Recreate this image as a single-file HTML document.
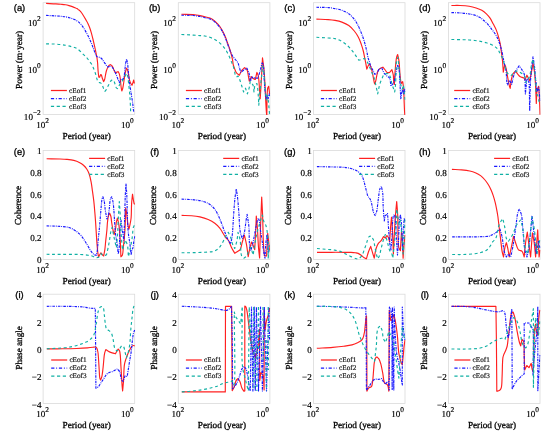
<!DOCTYPE html>
<html><head><meta charset="utf-8"><style>
html,body{margin:0;padding:0;background:#fff;}
svg{display:block;will-change:transform;}
text{text-rendering:geometricPrecision;stroke:#000;stroke-width:0.3px;paint-order:stroke;}
text.tk{stroke-width:0.18px;}
</style></head><body>
<svg width="550" height="435" viewBox="0 0 550 435">
<rect width="550" height="435" fill="#fff"/>
<defs>
<clipPath id="cp00"><rect x="43.10" y="1.70" width="92.10" height="113.20"/></clipPath>
<clipPath id="cp01"><rect x="178.30" y="1.70" width="92.10" height="113.20"/></clipPath>
<clipPath id="cp02"><rect x="313.40" y="1.70" width="92.10" height="113.20"/></clipPath>
<clipPath id="cp03"><rect x="448.40" y="1.70" width="92.10" height="113.20"/></clipPath>
<clipPath id="cp10"><rect x="43.10" y="149.50" width="92.10" height="110.40"/></clipPath>
<clipPath id="cp11"><rect x="178.30" y="149.50" width="92.10" height="110.40"/></clipPath>
<clipPath id="cp12"><rect x="313.40" y="149.50" width="92.10" height="110.40"/></clipPath>
<clipPath id="cp13"><rect x="448.40" y="149.50" width="92.10" height="110.40"/></clipPath>
<clipPath id="cp20"><rect x="43.10" y="293.20" width="92.10" height="110.70"/></clipPath>
<clipPath id="cp21"><rect x="178.30" y="293.20" width="92.10" height="110.70"/></clipPath>
<clipPath id="cp22"><rect x="313.40" y="293.20" width="92.10" height="110.70"/></clipPath>
<clipPath id="cp23"><rect x="448.40" y="293.20" width="92.10" height="110.70"/></clipPath>
</defs>
<rect x="43.10" y="2.70" width="91.60" height="111.70" fill="none" stroke="#dadada" stroke-width="0.8"/>
<text x="40.80" y="26.30" font-size="9.1" text-anchor="end" class="tk" font-family='"Liberation Serif", serif'>10<tspan font-size="7.4" dy="-5.2">2</tspan></text>
<text x="40.80" y="73.05" font-size="9.1" text-anchor="end" class="tk" font-family='"Liberation Serif", serif'>10<tspan font-size="7.4" dy="-5.2">0</tspan></text>
<text x="40.80" y="120.10" font-size="9.1" text-anchor="end" class="tk" font-family='"Liberation Serif", serif'>10<tspan font-size="7.4" dy="-5.2">&#8722;2</tspan></text>
<text x="42.60" y="128.40" font-size="9.1" text-anchor="middle" class="tk" font-family='"Liberation Serif", serif'>10<tspan font-size="7.4" dy="-5.2">2</tspan></text>
<text x="127.30" y="128.40" font-size="9.1" text-anchor="middle" class="tk" font-family='"Liberation Serif", serif'>10<tspan font-size="7.4" dy="-5.2">0</tspan></text>
<text x="86.70" y="139.40" font-size="9.2" text-anchor="middle" font-family='"Liberation Serif", serif' >Period (year)</text>
<text x="0" y="0" transform="translate(21.80,59.95) rotate(-90)" font-size="9.2" text-anchor="middle" font-family='"Liberation Serif", serif'>Power (m&#183;year)</text>
<text x="19.50" y="10.80" font-size="9.4" text-anchor="middle" font-family='"Liberation Sans", sans-serif' >(a)</text>
<g clip-path="url(#cp00)" fill="none" stroke-linejoin="round">
<path d="M46.10,3.40 C49.33,3.57 53.07,3.72 55.80,3.90 C57.80,4.03 59.34,4.14 61.00,4.30 C62.53,4.45 64.01,4.57 65.40,4.80 C66.67,5.01 67.83,5.29 69.00,5.60 C70.13,5.90 71.26,6.23 72.30,6.60 C73.25,6.94 74.17,7.34 75.00,7.70 C75.72,8.01 76.42,8.25 77.00,8.60 C77.50,8.90 77.83,9.26 78.30,9.60 C78.83,9.99 79.53,10.37 80.00,10.80 C80.41,11.18 80.60,11.46 81.00,12.00 C81.72,12.96 82.94,14.82 83.80,16.20 C84.60,17.49 85.30,18.77 86.00,20.00 C86.66,21.16 87.30,22.16 87.90,23.40 C88.58,24.80 89.22,26.41 89.80,28.00 C90.40,29.64 90.90,31.37 91.40,33.10 C91.91,34.87 92.35,36.68 92.80,38.50 C93.25,40.35 93.69,42.29 94.10,44.10 C94.49,45.79 94.85,47.37 95.20,49.00 C95.55,50.61 95.89,52.25 96.20,53.80 C96.49,55.25 96.77,56.53 97.00,58.00 C97.25,59.59 97.43,61.14 97.60,63.00 C97.81,65.35 97.88,68.51 98.10,71.00 C98.29,73.20 98.57,75.13 98.80,77.20 C99.07,77.23 99.33,77.27 99.60,77.30 C99.93,76.40 100.27,75.50 100.60,74.60 C100.87,74.67 101.13,74.73 101.40,74.80 C101.77,76.13 102.10,77.59 102.50,78.80 C102.84,79.83 103.23,80.67 103.60,81.60 C103.93,80.90 104.32,80.35 104.60,79.50 C105.00,78.30 105.18,76.50 105.50,75.00 C105.82,73.50 106.05,71.89 106.50,70.50 C106.91,69.24 107.44,67.98 108.00,67.00 C108.46,66.21 109.00,65.39 109.50,65.00 C109.83,64.75 110.17,64.73 110.50,64.60 C110.93,64.93 111.41,65.16 111.80,65.60 C112.26,66.12 112.61,66.81 113.00,67.60 C113.51,68.63 113.96,70.29 114.50,71.30 C114.91,72.06 115.37,72.57 115.80,73.20 C116.20,72.80 116.58,72.27 117.00,72.00 C117.35,71.78 117.73,71.73 118.10,71.60 C118.47,72.27 118.89,72.78 119.20,73.60 C119.64,74.76 119.92,76.26 120.20,78.00 C120.60,80.46 120.77,84.60 121.10,87.00 C121.32,88.60 121.57,89.67 121.80,91.00 C122.10,90.17 122.44,89.47 122.70,88.50 C123.04,87.23 123.24,85.61 123.50,84.00 C123.80,82.15 124.08,80.00 124.40,78.00 C124.72,76.00 124.98,73.76 125.40,72.00 C125.74,70.58 126.20,69.47 126.60,68.20 C126.93,68.80 127.31,69.22 127.60,70.00 C128.05,71.22 128.27,73.29 128.60,75.00 C128.94,76.79 129.16,78.96 129.60,80.50 C129.94,81.67 130.35,82.65 130.80,83.50 C131.17,84.20 131.60,84.70 132.00,85.30 C132.33,84.37 132.71,83.41 133.00,82.50 C133.27,81.65 133.47,80.83 133.70,80.00 C133.93,81.17 134.17,82.33 134.40,83.50" stroke="#ff2020" stroke-width="1.15" />
<path d="M46.10,15.40 C49.33,15.57 53.07,15.72 55.80,15.90 C57.80,16.03 59.34,16.14 61.00,16.30 C62.53,16.45 64.01,16.57 65.40,16.80 C66.67,17.01 67.83,17.29 69.00,17.60 C70.13,17.90 71.12,18.14 72.30,18.60 C73.75,19.17 75.65,20.04 77.00,20.90 C78.16,21.63 79.10,22.41 80.00,23.30 C80.89,24.18 81.64,25.18 82.40,26.20 C83.18,27.25 83.91,28.36 84.60,29.50 C85.31,30.66 85.96,31.91 86.60,33.10 C87.22,34.25 87.83,35.35 88.40,36.50 C88.97,37.65 89.48,38.83 90.00,40.00 C90.52,41.16 91.03,42.34 91.50,43.50 C91.96,44.64 92.37,45.79 92.80,46.90 C93.21,47.96 93.65,49.03 94.00,50.00 C94.31,50.85 94.49,51.59 94.80,52.40 C95.12,53.26 95.51,54.25 95.90,55.00 C96.22,55.61 96.41,56.23 96.90,56.60 C97.42,56.99 98.38,57.02 99.00,57.20 C99.49,57.34 99.86,57.36 100.30,57.60 C100.86,57.90 101.49,58.44 102.00,59.00 C102.56,59.62 102.98,60.45 103.50,61.20 C104.05,61.98 104.65,62.80 105.20,63.60 C105.75,64.40 106.26,65.40 106.80,66.00 C107.20,66.44 107.60,66.67 108.00,67.00 C108.50,66.80 109.01,66.53 109.50,66.40 C109.94,66.28 110.38,66.08 110.80,66.20 C111.29,66.34 111.74,66.92 112.20,67.40 C112.75,67.98 113.30,68.69 113.80,69.50 C114.38,70.45 114.89,71.64 115.40,72.80 C115.96,74.06 116.49,75.50 117.00,76.80 C117.49,78.03 117.96,79.35 118.40,80.40 C118.75,81.23 119.07,81.87 119.40,82.60 C119.73,81.90 120.03,81.13 120.40,80.50 C120.73,79.94 121.13,79.50 121.50,79.00 C121.83,79.13 122.17,79.27 122.50,79.40 C122.87,79.00 123.30,78.80 123.60,78.20 C124.14,77.12 124.30,75.00 124.60,73.00 C125.00,70.31 125.17,66.04 125.60,63.50 C125.89,61.78 126.27,60.63 126.60,59.20 C126.90,60.47 127.25,61.49 127.50,63.00 C127.86,65.17 128.03,68.32 128.30,71.00 C128.57,73.72 128.80,76.60 129.10,79.20 C129.37,81.58 129.69,83.81 130.00,86.00 C130.29,88.06 130.62,90.14 130.90,92.00 C131.15,93.61 131.36,95.05 131.60,96.50 C131.83,97.87 132.09,99.21 132.30,100.50 C132.49,101.70 132.65,102.73 132.80,104.00 C132.98,105.52 133.11,107.55 133.30,109.00 C133.45,110.13 133.63,111.00 133.80,112.00" stroke="#1818ff" stroke-width="1.15" stroke-dasharray="2.6 1.0 0.9 1.0"/>
<path d="M46.10,43.90 C49.33,43.97 52.58,43.88 55.80,44.10 C59.01,44.32 62.48,44.68 65.40,45.20 C67.91,45.65 70.23,46.29 72.30,46.90 C74.03,47.41 75.40,47.55 77.00,48.50 C79.15,49.78 81.78,52.85 83.60,54.60 C84.93,55.88 86.00,56.82 87.00,58.00 C87.95,59.12 88.66,60.38 89.50,61.50 C90.30,62.57 91.23,63.46 91.90,64.60 C92.60,65.79 93.05,67.15 93.60,68.50 C94.19,69.94 94.80,71.46 95.30,73.00 C95.81,74.56 96.18,76.39 96.60,77.80 C96.94,78.92 97.18,79.97 97.60,80.80 C97.94,81.48 98.30,82.20 98.80,82.50 C99.23,82.76 99.84,82.50 100.30,82.70 C100.78,82.91 101.22,83.30 101.60,83.80 C102.10,84.46 102.42,85.58 102.80,86.50 C103.19,87.44 103.52,88.53 103.90,89.40 C104.22,90.14 104.57,90.73 104.90,91.40 C105.37,90.80 105.87,90.28 106.30,89.60 C106.78,88.83 107.16,87.87 107.60,87.00 C108.05,86.11 108.50,85.24 109.00,84.30 C109.56,83.25 110.11,81.80 110.80,81.00 C111.32,80.40 111.93,80.13 112.50,79.70 C113.00,80.23 113.58,80.62 114.00,81.30 C114.52,82.14 114.81,83.41 115.20,84.50 C115.61,85.64 115.85,87.35 116.40,88.00 C116.72,88.38 117.13,88.40 117.50,88.60 C117.87,87.93 118.23,87.28 118.60,86.60 C118.99,85.88 119.38,85.09 119.80,84.40 C120.19,83.76 120.56,83.20 121.00,82.60 C121.46,81.97 122.01,81.37 122.50,80.70 C123.01,80.00 123.54,79.31 124.00,78.50 C124.51,77.60 124.92,76.43 125.40,75.50 C125.83,74.67 126.27,73.97 126.70,73.20 C127.07,74.47 127.49,75.47 127.80,77.00 C128.25,79.22 128.50,82.58 128.80,85.30 C129.09,87.91 129.37,90.41 129.60,93.00 C129.84,95.64 130.05,98.42 130.20,101.00 C130.34,103.41 130.41,105.76 130.50,108.00 C130.58,110.08 130.63,112.00 130.70,114.00" stroke="#10b0a4" stroke-width="1.15" stroke-dasharray="2.9 2.7"/>
</g>
<rect x="178.30" y="2.70" width="91.60" height="111.70" fill="none" stroke="#dadada" stroke-width="0.8"/>
<text x="176.00" y="26.30" font-size="9.1" text-anchor="end" class="tk" font-family='"Liberation Serif", serif'>10<tspan font-size="7.4" dy="-5.2">2</tspan></text>
<text x="176.00" y="73.05" font-size="9.1" text-anchor="end" class="tk" font-family='"Liberation Serif", serif'>10<tspan font-size="7.4" dy="-5.2">0</tspan></text>
<text x="176.00" y="120.10" font-size="9.1" text-anchor="end" class="tk" font-family='"Liberation Serif", serif'>10<tspan font-size="7.4" dy="-5.2">&#8722;2</tspan></text>
<text x="177.80" y="128.40" font-size="9.1" text-anchor="middle" class="tk" font-family='"Liberation Serif", serif'>10<tspan font-size="7.4" dy="-5.2">2</tspan></text>
<text x="262.50" y="128.40" font-size="9.1" text-anchor="middle" class="tk" font-family='"Liberation Serif", serif'>10<tspan font-size="7.4" dy="-5.2">0</tspan></text>
<text x="221.90" y="139.40" font-size="9.2" text-anchor="middle" font-family='"Liberation Serif", serif' >Period (year)</text>
<text x="0" y="0" transform="translate(157.00,59.95) rotate(-90)" font-size="9.2" text-anchor="middle" font-family='"Liberation Serif", serif'>Power (m&#183;year)</text>
<text x="154.70" y="10.80" font-size="9.4" text-anchor="middle" font-family='"Liberation Sans", sans-serif' >(b)</text>
<g clip-path="url(#cp01)" fill="none" stroke-linejoin="round">
<path d="M181.40,14.30 C185.33,14.40 189.81,14.31 193.20,14.60 C195.78,14.82 197.92,15.20 200.00,15.60 C201.80,15.95 203.21,16.31 205.00,16.80 C207.12,17.38 209.84,17.76 211.90,18.90 C213.97,20.05 215.77,21.96 217.40,23.70 C218.99,25.40 220.36,27.20 221.60,29.20 C222.91,31.31 223.98,33.72 225.00,36.10 C226.05,38.55 226.95,41.37 227.80,43.70 C228.52,45.68 229.22,47.42 229.80,49.20 C230.34,50.85 230.76,52.29 231.20,54.00 C231.70,55.93 232.24,58.26 232.60,60.20 C232.91,61.90 232.93,63.53 233.30,65.00 C233.63,66.30 234.10,67.36 234.60,68.60 C235.15,69.98 235.63,71.77 236.50,72.90 C237.28,73.90 238.43,74.43 239.40,75.20 C240.17,73.63 240.76,71.80 241.70,70.50 C242.53,69.36 243.63,68.63 244.60,67.70 C245.37,68.33 246.31,68.64 246.90,69.60 C247.79,71.05 247.98,74.15 248.40,76.20 C248.76,77.98 249.00,79.53 249.30,81.20 C249.60,80.70 249.92,80.31 250.20,79.70 C250.58,78.85 250.87,77.57 251.20,76.50 C251.67,77.00 252.11,77.57 252.60,78.00 C253.05,78.39 253.53,78.74 254.00,79.00 C254.43,79.23 254.87,79.33 255.30,79.50 C255.83,77.13 256.37,74.77 256.90,72.40 C257.37,73.67 257.91,74.47 258.30,76.20 C259.07,79.63 259.36,87.86 259.70,92.00 C259.92,94.67 260.03,96.40 260.20,98.60 C260.50,93.90 260.78,89.94 261.10,84.50 C261.54,77.01 262.03,66.70 262.50,57.80 C262.97,61.40 263.52,64.75 263.90,68.60 C264.34,73.00 264.64,78.36 264.90,82.80 C265.13,86.73 265.20,89.81 265.40,93.90 C265.65,98.97 266.00,106.89 266.30,110.90 C266.47,113.10 266.63,114.30 266.80,116.00 C267.10,106.73 266.70,92.00 267.70,88.20 C267.95,87.27 268.37,86.93 268.70,86.30 C269.00,88.83 269.30,91.37 269.60,93.90" stroke="#ff2020" stroke-width="1.15" />
<path d="M181.40,15.20 C185.33,15.30 189.81,15.21 193.20,15.50 C195.78,15.72 197.92,16.10 200.00,16.50 C201.80,16.85 203.21,17.21 205.00,17.70 C207.12,18.28 209.84,18.66 211.90,19.80 C213.97,20.95 215.77,22.86 217.40,24.60 C218.99,26.30 220.36,28.10 221.60,30.10 C222.91,32.21 223.98,34.62 225.00,37.00 C226.05,39.45 226.95,42.27 227.80,44.60 C228.52,46.58 229.30,48.77 229.80,50.10 C230.09,50.87 230.18,51.19 230.50,51.90 C230.99,53.00 231.79,54.72 232.60,56.00 C233.39,57.25 234.39,58.34 235.30,59.50 C236.22,60.67 237.50,61.81 238.10,63.00 C238.60,63.99 238.57,64.82 238.90,66.00 C239.39,67.74 240.17,70.27 240.80,72.40 C241.60,71.77 242.29,71.14 243.20,70.50 C244.28,69.74 245.67,68.97 246.90,68.20 C247.70,70.23 248.75,72.19 249.30,74.30 C249.85,76.42 249.90,78.70 250.20,80.90 C250.53,80.50 250.91,80.21 251.20,79.70 C251.58,79.02 251.80,77.97 252.10,77.10 C252.73,77.33 253.47,77.62 254.00,77.80 C254.38,77.93 254.58,78.04 255.00,78.10 C255.69,78.20 256.87,78.10 257.80,78.10 C258.43,76.20 259.07,74.55 259.70,72.40 C260.50,69.67 261.30,66.13 262.10,63.00 C262.40,63.30 262.76,63.38 263.00,63.90 C264.02,66.12 263.95,77.33 264.40,82.80 C264.74,86.99 265.02,90.82 265.40,93.90 C265.67,96.12 266.00,97.70 266.30,99.60 C266.63,98.33 266.97,97.07 267.30,95.80 C267.60,96.73 267.90,97.67 268.20,98.60 C268.50,97.03 268.80,95.47 269.10,93.90 C269.27,94.60 269.43,95.30 269.60,96.00" stroke="#1818ff" stroke-width="1.15" stroke-dasharray="2.6 1.0 0.9 1.0"/>
<path d="M181.40,34.50 C185.33,34.70 189.81,34.89 193.20,35.10 C195.78,35.26 197.91,35.44 200.00,35.60 C201.79,35.74 203.22,35.66 205.00,36.00 C207.14,36.41 209.66,37.11 211.90,38.10 C214.26,39.14 216.72,40.57 218.80,42.20 C220.85,43.81 222.71,45.73 224.30,47.80 C225.91,49.89 227.16,52.26 228.40,54.70 C229.71,57.27 231.02,60.82 231.90,62.90 C232.44,64.18 232.80,64.80 233.20,66.00 C233.72,67.56 234.18,69.76 234.60,71.50 C234.97,73.07 234.98,75.16 235.60,76.00 C235.97,76.50 236.53,76.53 237.00,76.80 C237.33,76.53 237.67,76.27 238.00,76.00 C238.47,76.93 238.94,77.68 239.40,78.80 C240.04,80.35 240.65,82.47 241.30,84.50 C242.04,86.82 242.83,89.50 243.60,92.00 C244.23,90.73 244.87,89.47 245.50,88.20 C246.13,90.10 246.77,92.00 247.40,93.90 C248.03,91.70 248.83,89.43 249.30,87.30 C249.73,85.34 249.90,83.50 250.20,81.60 C250.63,82.07 251.07,82.45 251.50,83.00 C252.03,83.68 252.70,84.34 253.10,85.40 C253.71,87.01 253.70,89.80 254.00,92.00 C254.33,89.80 254.26,86.86 255.00,85.40 C255.47,84.47 256.27,84.13 256.90,83.50 C257.20,85.40 257.54,86.81 257.80,89.20 C258.24,93.18 258.47,99.87 258.80,105.20 C259.10,101.43 259.31,98.10 259.70,93.90 C260.19,88.61 261.10,81.11 261.60,76.00 C261.97,72.19 262.20,69.33 262.50,66.00 C262.83,67.33 263.21,68.35 263.50,70.00 C263.95,72.57 264.18,76.51 264.50,80.00 C264.85,83.82 265.13,88.41 265.50,92.00 C265.81,94.94 266.17,97.33 266.50,100.00 C266.73,98.33 266.97,96.67 267.20,95.00 C267.53,96.67 267.92,98.13 268.20,100.00 C268.55,102.35 268.76,105.42 269.00,108.00 C269.22,110.41 269.40,112.67 269.60,115.00" stroke="#10b0a4" stroke-width="1.15" stroke-dasharray="2.9 2.7"/>
</g>
<rect x="313.40" y="2.70" width="91.60" height="111.70" fill="none" stroke="#dadada" stroke-width="0.8"/>
<text x="311.10" y="26.30" font-size="9.1" text-anchor="end" class="tk" font-family='"Liberation Serif", serif'>10<tspan font-size="7.4" dy="-5.2">2</tspan></text>
<text x="311.10" y="73.05" font-size="9.1" text-anchor="end" class="tk" font-family='"Liberation Serif", serif'>10<tspan font-size="7.4" dy="-5.2">0</tspan></text>
<text x="311.10" y="120.10" font-size="9.1" text-anchor="end" class="tk" font-family='"Liberation Serif", serif'>10<tspan font-size="7.4" dy="-5.2">&#8722;2</tspan></text>
<text x="312.90" y="128.40" font-size="9.1" text-anchor="middle" class="tk" font-family='"Liberation Serif", serif'>10<tspan font-size="7.4" dy="-5.2">2</tspan></text>
<text x="397.60" y="128.40" font-size="9.1" text-anchor="middle" class="tk" font-family='"Liberation Serif", serif'>10<tspan font-size="7.4" dy="-5.2">0</tspan></text>
<text x="357.00" y="139.40" font-size="9.2" text-anchor="middle" font-family='"Liberation Serif", serif' >Period (year)</text>
<text x="0" y="0" transform="translate(292.10,59.95) rotate(-90)" font-size="9.2" text-anchor="middle" font-family='"Liberation Serif", serif'>Power (m&#183;year)</text>
<text x="289.80" y="10.80" font-size="9.4" text-anchor="middle" font-family='"Liberation Sans", sans-serif' >(c)</text>
<g clip-path="url(#cp02)" fill="none" stroke-linejoin="round">
<path d="M316.40,19.10 C320.33,19.27 324.81,19.33 328.20,19.60 C330.78,19.81 332.74,19.99 335.00,20.40 C337.30,20.82 339.64,21.28 341.90,22.10 C344.25,22.96 346.74,24.02 348.80,25.50 C350.87,26.99 352.69,29.02 354.30,31.00 C355.88,32.93 357.25,35.02 358.40,37.20 C359.55,39.38 360.38,41.78 361.20,44.10 C362.01,46.38 362.71,48.69 363.30,51.00 C363.88,53.29 364.25,55.68 364.70,57.90 C365.12,59.97 365.54,61.97 365.90,63.90 C366.23,65.69 366.50,67.37 366.80,69.10 C367.27,68.00 367.67,66.72 368.20,65.80 C368.63,65.05 369.13,64.53 369.60,63.90 C370.10,65.17 370.65,66.29 371.10,67.70 C371.64,69.39 372.08,71.50 372.50,73.40 C372.91,75.27 373.26,77.29 373.60,79.00 C373.89,80.45 374.14,82.12 374.40,83.00 C374.53,83.45 374.67,83.67 374.80,84.00 C375.13,82.90 375.50,81.91 375.80,80.70 C376.15,79.28 376.32,77.62 376.70,76.00 C377.11,74.23 377.41,71.87 378.20,70.50 C378.80,69.47 379.67,68.76 380.50,68.20 C381.25,67.70 382.10,67.53 382.90,67.20 C383.67,68.13 384.47,69.10 385.20,70.00 C385.87,70.83 386.32,72.02 387.10,72.40 C387.79,72.73 388.77,72.74 389.50,72.40 C390.41,71.98 391.10,70.53 391.90,69.60 C392.37,71.47 392.97,73.13 393.30,75.20 C393.70,77.68 393.51,82.09 393.90,83.50 C394.03,83.99 394.23,84.17 394.40,84.50 C394.67,79.67 394.81,74.67 395.20,70.00 C395.56,65.62 395.94,59.98 396.60,57.30 C396.92,56.00 397.33,55.43 397.70,54.50 C398.13,56.70 398.66,58.55 399.00,61.10 C399.46,64.56 399.59,69.94 399.90,73.40 C400.13,75.94 400.32,78.15 400.60,80.00 C400.81,81.36 401.07,82.33 401.30,83.50 C401.77,82.87 402.23,82.23 402.70,81.60 C403.03,84.13 403.47,86.41 403.70,89.20 C403.98,92.59 403.95,96.73 404.10,100.50 C404.25,104.29 404.40,109.05 404.60,111.90 C404.72,113.61 404.87,114.63 405.00,116.00" stroke="#ff2020" stroke-width="1.15" />
<path d="M316.40,7.30 C320.33,7.40 324.81,7.31 328.20,7.60 C330.78,7.82 332.74,8.16 335.00,8.60 C337.30,9.05 339.65,9.46 341.90,10.30 C344.25,11.17 346.74,12.30 348.80,13.80 C350.87,15.30 352.71,17.25 354.30,19.30 C355.92,21.38 357.16,23.75 358.40,26.20 C359.71,28.80 360.84,31.71 361.90,34.50 C362.94,37.25 363.89,40.02 364.70,42.80 C365.49,45.52 366.11,48.38 366.70,51.00 C367.23,53.39 367.60,56.05 368.10,57.90 C368.45,59.18 368.82,59.93 369.20,61.10 C369.65,62.51 369.98,64.26 370.60,65.80 C371.24,67.40 372.27,69.01 373.00,70.50 C373.65,71.83 374.20,73.03 374.80,74.30 C375.43,74.00 376.08,73.96 376.70,73.40 C377.71,72.49 378.50,69.35 379.60,68.60 C380.31,68.11 381.13,68.33 381.90,68.20 C382.70,69.93 383.32,72.00 384.30,73.40 C385.11,74.56 386.18,75.38 387.10,76.20 C387.91,76.92 388.90,77.09 389.50,78.10 C390.48,79.74 390.43,83.37 390.90,86.00 C391.37,85.50 391.84,85.04 392.30,84.50 C392.80,83.91 393.36,83.53 393.80,82.60 C394.62,80.86 394.97,77.16 395.60,74.30 C396.27,71.24 397.00,67.97 397.70,64.80 C398.27,67.33 399.03,69.66 399.40,72.40 C399.82,75.53 399.70,78.82 399.90,82.60 C400.15,87.34 400.50,93.27 400.80,98.60 C401.30,95.47 401.80,92.33 402.30,89.20 C402.77,90.77 403.23,92.33 403.70,93.90 C404.00,92.33 404.30,90.77 404.60,89.20 C404.73,90.13 404.87,91.07 405.00,92.00" stroke="#1818ff" stroke-width="1.15" stroke-dasharray="2.6 1.0 0.9 1.0"/>
<path d="M316.40,37.30 C320.33,37.53 324.81,37.75 328.20,38.00 C330.78,38.19 332.76,38.06 335.00,38.60 C337.33,39.16 339.69,40.11 341.90,41.40 C344.31,42.81 346.87,45.04 348.80,46.90 C350.43,48.48 351.62,50.06 352.90,51.70 C354.15,53.30 355.35,55.10 356.40,56.60 C357.28,57.86 358.00,58.93 358.80,60.10 C359.73,59.93 360.67,59.87 361.60,59.60 C362.57,59.32 363.53,58.80 364.50,58.40 C365.43,59.60 366.45,60.59 367.30,62.00 C368.32,63.70 369.13,65.99 370.00,68.00 C370.86,69.99 371.78,72.33 372.50,74.00 C373.02,75.21 373.48,75.89 373.90,77.10 C374.45,78.69 374.79,80.58 375.30,82.80 C376.01,85.89 376.90,90.20 377.70,93.90 C378.00,92.33 378.24,90.84 378.60,89.20 C379.00,87.39 379.42,85.29 380.00,83.50 C380.54,81.84 381.18,80.33 381.90,78.80 C382.62,77.26 383.16,75.18 384.30,74.30 C385.28,73.54 386.77,73.70 388.00,73.40 C388.80,74.63 389.78,75.61 390.40,77.10 C391.19,78.99 391.29,81.88 391.90,84.00 C392.44,85.88 393.29,87.73 393.80,89.20 C394.17,90.27 394.40,91.07 394.70,92.00 C395.00,89.33 395.34,87.36 395.60,84.00 C396.04,78.33 395.72,65.48 396.60,61.10 C396.96,59.31 397.53,58.57 398.00,57.30 C398.47,62.03 398.92,66.85 399.40,71.50 C399.86,75.98 400.10,81.48 400.80,84.70 C401.22,86.62 401.80,87.70 402.30,89.20 C402.70,87.80 403.10,86.40 403.50,85.00 C403.83,88.33 404.22,92.24 404.50,95.00 C404.70,96.95 404.83,98.33 405.00,100.00" stroke="#10b0a4" stroke-width="1.15" stroke-dasharray="2.9 2.7"/>
</g>
<rect x="448.40" y="2.70" width="91.60" height="111.70" fill="none" stroke="#dadada" stroke-width="0.8"/>
<text x="446.10" y="26.30" font-size="9.1" text-anchor="end" class="tk" font-family='"Liberation Serif", serif'>10<tspan font-size="7.4" dy="-5.2">2</tspan></text>
<text x="446.10" y="73.05" font-size="9.1" text-anchor="end" class="tk" font-family='"Liberation Serif", serif'>10<tspan font-size="7.4" dy="-5.2">0</tspan></text>
<text x="446.10" y="120.10" font-size="9.1" text-anchor="end" class="tk" font-family='"Liberation Serif", serif'>10<tspan font-size="7.4" dy="-5.2">&#8722;2</tspan></text>
<text x="447.90" y="128.40" font-size="9.1" text-anchor="middle" class="tk" font-family='"Liberation Serif", serif'>10<tspan font-size="7.4" dy="-5.2">2</tspan></text>
<text x="532.60" y="128.40" font-size="9.1" text-anchor="middle" class="tk" font-family='"Liberation Serif", serif'>10<tspan font-size="7.4" dy="-5.2">0</tspan></text>
<text x="492.00" y="139.40" font-size="9.2" text-anchor="middle" font-family='"Liberation Serif", serif' >Period (year)</text>
<text x="0" y="0" transform="translate(427.10,59.95) rotate(-90)" font-size="9.2" text-anchor="middle" font-family='"Liberation Serif", serif'>Power (m&#183;year)</text>
<text x="424.80" y="10.80" font-size="9.4" text-anchor="middle" font-family='"Liberation Sans", sans-serif' >(d)</text>
<g clip-path="url(#cp03)" fill="none" stroke-linejoin="round">
<path d="M451.40,5.50 C454.27,5.50 457.09,5.37 460.00,5.50 C463.02,5.63 466.37,5.83 469.20,6.30 C471.68,6.71 473.93,7.30 476.10,8.00 C478.12,8.65 480.06,9.31 481.80,10.30 C483.49,11.26 485.03,12.52 486.40,13.80 C487.72,15.03 488.82,16.25 489.90,17.80 C491.15,19.60 492.23,22.04 493.30,24.10 C494.32,26.07 495.35,27.85 496.20,29.90 C497.10,32.07 497.83,34.49 498.50,36.80 C499.16,39.09 499.74,41.32 500.20,43.70 C500.68,46.21 500.93,48.79 501.30,51.50 C501.70,54.44 502.18,57.46 502.50,60.70 C502.86,64.31 503.03,68.37 503.30,72.20 C503.80,69.70 504.30,67.20 504.80,64.70 C505.17,65.67 505.55,66.34 505.90,67.60 C506.51,69.79 507.02,73.73 507.60,76.80 C508.18,79.87 508.85,83.97 509.40,86.00 C509.68,87.04 509.93,87.53 510.20,88.30 C510.70,84.83 511.00,80.64 511.70,77.90 C512.18,76.03 512.63,74.51 513.40,73.30 C514.03,72.32 514.93,71.77 515.70,71.00 C516.47,72.17 517.18,73.49 518.00,74.50 C518.72,75.39 519.38,76.24 520.30,76.80 C521.26,77.39 522.90,77.27 523.70,77.90 C524.36,78.42 524.57,79.30 525.00,80.00 C525.63,78.40 526.27,76.80 526.90,75.20 C527.37,76.17 527.83,77.14 528.30,78.10 C528.76,79.04 529.23,79.97 529.70,80.90 C530.50,76.80 531.51,71.91 532.10,68.60 C532.50,66.37 532.70,64.87 533.00,63.00 C533.47,65.83 534.02,68.46 534.40,71.50 C534.84,74.99 535.11,78.47 535.40,82.80 C535.79,88.64 536.00,96.53 536.30,103.40 C536.63,98.67 536.53,92.10 537.30,89.20 C537.67,87.82 538.23,87.27 538.70,86.30 C538.97,90.87 539.27,95.35 539.50,100.00 C539.74,104.81 539.90,109.80 540.10,114.70" stroke="#ff2020" stroke-width="1.15" />
<path d="M451.40,12.60 C454.27,12.70 457.29,12.72 460.00,12.90 C462.43,13.07 464.61,13.27 466.90,13.60 C469.21,13.93 471.64,14.27 473.80,14.90 C475.82,15.49 477.76,16.21 479.50,17.20 C481.19,18.16 482.61,19.40 484.10,20.70 C485.68,22.08 487.32,23.72 488.70,25.30 C490.00,26.79 491.05,28.36 492.20,29.90 C493.35,31.43 494.63,32.92 495.60,34.50 C496.52,35.99 497.21,37.55 497.90,39.10 C498.57,40.62 499.11,41.95 499.70,43.70 C500.45,45.94 501.21,48.63 501.90,51.50 C502.73,54.95 503.46,59.66 504.20,63.00 C504.78,65.60 505.45,67.18 505.90,69.90 C506.53,73.69 506.57,81.69 507.10,83.70 C507.24,84.23 507.43,84.43 507.60,84.80 C508.20,83.27 508.80,81.73 509.40,80.20 C510.17,81.57 510.93,82.93 511.70,84.30 C512.27,81.80 512.68,79.11 513.40,76.80 C514.05,74.72 514.74,72.82 515.70,71.00 C516.65,69.19 517.97,67.60 519.10,65.90 C520.07,67.23 521.14,68.48 522.00,69.90 C522.88,71.35 523.73,72.36 524.30,74.50 C525.41,78.66 525.03,87.43 525.40,93.90 C525.90,88.87 526.40,83.83 526.90,78.80 C527.37,79.20 527.94,79.25 528.30,80.00 C529.93,83.34 529.23,100.60 529.70,110.90 C530.00,100.50 530.14,87.47 530.60,79.70 C530.88,75.06 531.21,72.35 531.60,68.60 C532.00,64.72 532.53,60.73 533.00,56.80 C533.47,59.80 534.01,62.63 534.40,65.80 C534.83,69.32 535.05,73.62 535.40,77.00 C535.69,79.81 536.07,82.16 536.30,84.70 C536.53,87.16 536.63,89.57 536.80,92.00 C537.43,90.43 538.07,88.87 538.70,87.30 C539.17,91.70 539.63,96.10 540.10,100.50" stroke="#1818ff" stroke-width="1.15" stroke-dasharray="2.6 1.0 0.9 1.0"/>
<path d="M451.40,39.50 C455.40,39.57 460.12,39.59 463.40,39.70 C465.68,39.78 467.28,39.87 469.20,40.00 C471.11,40.13 473.00,40.27 474.90,40.50 C476.83,40.73 478.78,41.02 480.70,41.40 C482.62,41.78 484.56,42.22 486.40,42.80 C488.19,43.36 490.01,44.04 491.60,44.80 C493.05,45.49 494.50,46.25 495.60,47.10 C496.53,47.81 497.25,48.51 497.90,49.40 C498.59,50.33 498.95,51.32 499.60,52.60 C500.55,54.46 502.06,57.06 503.00,59.50 C503.98,62.05 504.46,65.16 505.30,67.60 C506.02,69.69 506.48,71.93 507.60,73.30 C508.53,74.43 509.93,74.83 511.10,75.60 C512.23,74.47 513.26,72.97 514.50,72.20 C515.59,71.52 516.88,70.85 518.00,71.00 C519.18,71.16 520.33,72.51 521.40,73.30 C522.42,74.05 523.58,74.45 524.30,75.60 C525.31,77.20 525.37,80.27 525.90,82.60 C526.43,81.73 526.94,80.97 527.50,80.00 C528.19,78.82 529.10,77.76 529.70,76.00 C530.69,73.11 530.90,66.98 531.60,63.90 C532.04,61.95 532.53,60.77 533.00,59.20 C533.47,62.33 533.97,65.14 534.40,68.60 C534.92,72.84 535.48,78.35 535.80,82.80 C536.08,86.72 535.50,92.18 536.30,93.90 C536.61,94.56 537.15,94.40 537.50,95.00 C538.22,96.21 538.60,99.85 539.10,101.50 C539.41,102.54 539.70,103.17 540.00,104.00" stroke="#10b0a4" stroke-width="1.15" stroke-dasharray="2.9 2.7"/>
</g>
<rect x="43.10" y="150.50" width="91.60" height="108.90" fill="none" stroke="#dadada" stroke-width="0.8"/>
<text x="41.50" y="154.00" font-size="9.1" text-anchor="end" font-family='"Liberation Serif", serif' class="tk">1</text>
<text x="41.50" y="175.78" font-size="9.1" text-anchor="end" font-family='"Liberation Serif", serif' class="tk">0.8</text>
<text x="41.50" y="197.56" font-size="9.1" text-anchor="end" font-family='"Liberation Serif", serif' class="tk">0.6</text>
<text x="41.50" y="219.34" font-size="9.1" text-anchor="end" font-family='"Liberation Serif", serif' class="tk">0.4</text>
<text x="41.50" y="241.12" font-size="9.1" text-anchor="end" font-family='"Liberation Serif", serif' class="tk">0.2</text>
<text x="41.50" y="262.90" font-size="9.1" text-anchor="end" font-family='"Liberation Serif", serif' class="tk">0</text>
<text x="42.60" y="273.40" font-size="9.1" text-anchor="middle" class="tk" font-family='"Liberation Serif", serif'>10<tspan font-size="7.4" dy="-5.2">2</tspan></text>
<text x="127.30" y="273.40" font-size="9.1" text-anchor="middle" class="tk" font-family='"Liberation Serif", serif'>10<tspan font-size="7.4" dy="-5.2">0</tspan></text>
<text x="86.70" y="284.00" font-size="9.2" text-anchor="middle" font-family='"Liberation Serif", serif' >Period (year)</text>
<text x="0" y="0" transform="translate(21.10,205.45) rotate(-90)" font-size="9.2" text-anchor="middle" font-family='"Liberation Serif", serif'>Coherence</text>
<text x="19.50" y="154.50" font-size="9.4" text-anchor="middle" font-family='"Liberation Sans", sans-serif' >(e)</text>
<g clip-path="url(#cp10)" fill="none" stroke-linejoin="round">
<path d="M46.60,158.80 C51.07,158.87 56.27,158.86 60.00,159.00 C62.68,159.10 64.60,159.17 66.90,159.40 C69.21,159.63 71.66,159.86 73.80,160.40 C75.76,160.89 77.64,161.56 79.30,162.40 C80.85,163.18 82.25,164.07 83.50,165.20 C84.79,166.36 85.97,167.87 86.90,169.30 C87.78,170.64 88.38,171.82 89.00,173.50 C89.84,175.76 90.53,178.92 91.10,181.80 C91.71,184.87 92.05,188.19 92.50,191.40 C92.95,194.62 93.42,197.77 93.80,201.10 C94.20,204.62 94.50,208.43 94.80,212.00 C95.09,215.46 95.32,218.28 95.60,222.20 C95.98,227.54 96.40,235.74 96.80,241.10 C97.10,245.08 97.37,248.55 97.70,251.50 C97.95,253.69 98.23,255.30 98.50,257.20 C98.77,256.67 98.98,256.20 99.30,255.60 C99.73,254.79 100.37,253.73 100.90,252.80 C101.43,253.47 101.99,254.23 102.50,254.80 C102.92,255.26 103.30,255.60 103.70,256.00 C104.10,253.70 104.57,251.49 104.90,249.10 C105.25,246.54 105.40,243.98 105.70,241.10 C106.05,237.70 106.59,233.40 106.90,230.00 C107.16,227.12 107.21,224.50 107.50,222.00 C107.76,219.77 107.99,217.27 108.50,215.70 C108.83,214.68 109.30,214.10 109.70,213.30 C110.10,214.37 110.60,215.27 110.90,216.50 C111.29,218.07 111.31,220.05 111.60,222.00 C111.93,224.24 112.35,226.97 112.80,229.20 C113.20,231.16 113.67,232.87 114.10,234.70 C114.57,232.87 115.13,231.18 115.50,229.20 C115.93,226.93 116.00,223.83 116.40,221.80 C116.68,220.34 117.07,219.33 117.40,218.10 C117.83,219.93 118.32,221.31 118.70,223.60 C119.31,227.32 119.74,233.19 120.10,238.40 C120.50,244.20 120.63,250.67 120.90,256.80 C121.40,256.20 122.02,255.88 122.40,255.00 C123.08,253.43 123.00,250.20 123.30,247.60 C123.63,244.70 124.01,241.78 124.30,238.40 C124.66,234.27 124.99,229.41 125.20,224.60 C125.44,219.32 125.47,213.53 125.60,208.00 C125.93,209.53 126.29,210.68 126.60,212.60 C127.10,215.72 127.38,221.97 127.90,225.00 C128.20,226.78 128.57,227.80 128.90,229.20 C129.20,227.97 129.50,226.95 129.80,225.50 C130.23,223.44 130.80,220.92 131.10,218.00 C131.52,213.95 131.32,207.70 131.60,203.40 C131.83,199.98 132.20,197.27 132.50,194.20 C132.80,196.13 133.09,198.25 133.40,200.00 C133.66,201.46 133.93,202.67 134.20,204.00 C134.47,204.00 134.73,204.00 135.00,204.00" stroke="#ff2020" stroke-width="1.15" />
<path d="M46.60,225.90 C49.40,225.97 52.56,226.00 55.00,226.10 C56.88,226.18 58.24,226.28 60.00,226.40 C61.96,226.54 64.24,226.54 66.20,226.90 C68.03,227.23 69.72,227.66 71.40,228.40 C73.16,229.17 74.93,230.34 76.50,231.50 C78.02,232.62 79.38,233.75 80.70,235.20 C82.17,236.83 83.56,239.03 84.80,240.90 C85.94,242.62 86.87,244.29 87.90,246.00 C88.94,247.72 89.89,249.70 91.00,251.20 C91.97,252.51 93.08,253.94 94.10,254.60 C94.81,255.06 95.50,255.07 96.20,255.30 C96.57,253.77 97.01,252.53 97.30,250.70 C97.72,248.09 97.82,244.16 98.10,241.10 C98.36,238.28 98.63,235.69 98.90,233.00 C99.17,230.32 99.42,228.08 99.70,225.00 C100.08,220.80 100.47,214.72 100.90,210.10 C101.28,206.07 101.55,201.01 102.10,198.80 C102.33,197.86 102.63,197.47 102.90,196.80 C103.30,198.03 103.76,198.96 104.10,200.50 C104.64,202.93 104.82,206.97 105.30,210.10 C105.76,213.13 106.37,216.03 106.90,219.00 C107.30,218.17 107.76,217.60 108.10,216.50 C108.68,214.62 108.92,211.30 109.30,208.50 C109.72,205.42 109.82,200.78 110.50,198.80 C110.83,197.83 111.30,197.47 111.70,196.80 C112.10,198.30 112.58,199.64 112.90,201.30 C113.28,203.30 113.46,205.36 113.70,208.00 C114.05,211.77 114.29,217.36 114.60,221.80 C114.89,225.94 115.08,230.07 115.50,233.80 C115.87,237.08 116.45,239.79 116.90,243.00 C117.39,246.50 117.83,250.33 118.30,254.00 C118.60,251.87 118.95,250.29 119.20,247.60 C119.63,243.06 119.73,234.28 120.10,229.20 C120.36,225.60 120.70,223.07 121.00,220.00 C121.33,222.67 121.66,225.55 122.00,228.00 C122.29,230.09 122.61,231.82 122.90,233.80 C123.21,235.88 123.50,238.07 123.80,240.20 C124.07,233.47 124.36,227.09 124.60,220.00 C124.87,212.11 125.00,201.64 125.30,195.00 C125.50,190.59 125.77,187.67 126.00,184.00 C126.27,187.67 126.58,190.59 126.80,195.00 C127.13,201.64 127.17,212.90 127.50,220.00 C127.75,225.28 127.95,229.67 128.40,233.80 C128.77,237.19 129.37,239.73 129.80,243.00 C130.29,246.73 130.67,251.00 131.10,255.00 C131.40,253.33 131.60,251.35 132.00,250.00 C132.28,249.04 132.72,248.65 133.00,247.60 C133.48,245.80 133.60,242.12 134.00,240.00 C134.30,238.44 134.67,237.33 135.00,236.00" stroke="#1818ff" stroke-width="1.15" stroke-dasharray="2.6 1.0 0.9 1.0"/>
<path d="M46.60,254.30 C51.07,254.33 55.09,254.37 60.00,254.40 C66.00,254.44 74.84,254.26 80.00,254.50 C83.27,254.65 85.80,254.88 88.00,255.20 C89.57,255.42 90.68,255.62 92.00,256.00 C93.35,256.39 94.81,257.36 96.00,257.50 C96.92,257.61 97.77,257.66 98.50,257.20 C99.47,256.59 100.10,254.73 100.90,253.50 C101.43,254.00 101.93,254.65 102.50,255.00 C103.00,255.31 103.51,255.59 104.10,255.60 C104.82,255.61 105.70,255.07 106.50,254.80 C107.17,251.83 107.95,248.72 108.50,245.90 C108.99,243.38 109.30,241.11 109.70,238.70 C110.10,236.28 110.42,233.46 110.90,231.40 C111.26,229.85 111.70,228.73 112.10,227.40 C112.63,230.13 113.14,232.86 113.70,235.60 C114.27,238.36 114.99,241.69 115.50,243.90 C115.84,245.38 116.10,246.37 116.40,247.60 C116.77,243.40 117.18,239.69 117.50,235.00 C117.90,229.10 118.17,221.00 118.50,215.00 C118.77,210.09 119.03,206.07 119.30,201.60 C119.60,206.07 119.91,210.09 120.20,215.00 C120.55,221.00 120.78,228.82 121.20,235.00 C121.57,240.36 122.07,245.00 122.50,250.00 C123.00,248.33 123.50,246.67 124.00,245.00 C124.50,243.33 125.00,241.67 125.50,240.00 C126.17,241.90 127.02,243.45 127.50,245.70 C128.15,248.75 128.10,253.10 128.40,256.80 C128.93,254.53 129.46,252.58 130.00,250.00 C130.70,246.65 131.53,242.22 132.10,238.40 C132.65,234.69 132.75,229.70 133.40,227.40 C133.72,226.28 134.13,225.80 134.50,225.00" stroke="#10b0a4" stroke-width="1.15" stroke-dasharray="2.9 2.7"/>
</g>
<rect x="178.30" y="150.50" width="91.60" height="108.90" fill="none" stroke="#dadada" stroke-width="0.8"/>
<text x="176.70" y="154.00" font-size="9.1" text-anchor="end" font-family='"Liberation Serif", serif' class="tk">1</text>
<text x="176.70" y="175.78" font-size="9.1" text-anchor="end" font-family='"Liberation Serif", serif' class="tk">0.8</text>
<text x="176.70" y="197.56" font-size="9.1" text-anchor="end" font-family='"Liberation Serif", serif' class="tk">0.6</text>
<text x="176.70" y="219.34" font-size="9.1" text-anchor="end" font-family='"Liberation Serif", serif' class="tk">0.4</text>
<text x="176.70" y="241.12" font-size="9.1" text-anchor="end" font-family='"Liberation Serif", serif' class="tk">0.2</text>
<text x="176.70" y="262.90" font-size="9.1" text-anchor="end" font-family='"Liberation Serif", serif' class="tk">0</text>
<text x="177.80" y="273.40" font-size="9.1" text-anchor="middle" class="tk" font-family='"Liberation Serif", serif'>10<tspan font-size="7.4" dy="-5.2">2</tspan></text>
<text x="262.50" y="273.40" font-size="9.1" text-anchor="middle" class="tk" font-family='"Liberation Serif", serif'>10<tspan font-size="7.4" dy="-5.2">0</tspan></text>
<text x="221.90" y="284.00" font-size="9.2" text-anchor="middle" font-family='"Liberation Serif", serif' >Period (year)</text>
<text x="0" y="0" transform="translate(156.30,205.45) rotate(-90)" font-size="9.2" text-anchor="middle" font-family='"Liberation Serif", serif'>Coherence</text>
<text x="154.70" y="154.50" font-size="9.4" text-anchor="middle" font-family='"Liberation Sans", sans-serif' >(f)</text>
<g clip-path="url(#cp11)" fill="none" stroke-linejoin="round">
<path d="M181.60,215.40 C184.93,215.50 188.43,215.42 191.60,215.70 C194.50,215.95 197.16,216.28 199.90,216.90 C202.69,217.53 205.64,218.40 208.20,219.50 C210.58,220.53 212.84,221.73 214.80,223.20 C216.69,224.61 218.32,226.24 219.80,228.10 C221.37,230.07 222.66,232.91 223.90,234.80 C224.84,236.23 225.67,237.58 226.50,238.50 C227.09,239.15 227.63,239.22 228.20,240.00 C229.28,241.47 230.36,245.09 231.50,247.40 C232.54,249.50 233.63,251.33 234.70,253.30 C235.80,252.60 237.04,251.87 238.00,251.20 C238.79,250.65 239.50,250.47 240.10,249.60 C241.14,248.09 241.57,244.48 242.30,242.00 C243.00,239.62 243.70,237.33 244.40,235.00 C245.13,238.40 245.98,241.69 246.60,245.20 C247.25,248.88 247.67,252.80 248.20,256.60 C248.73,253.90 249.22,251.04 249.80,248.50 C250.33,246.21 250.93,244.17 251.50,242.00 C252.03,243.07 252.60,244.03 253.10,245.20 C253.67,246.54 254.17,248.13 254.70,249.60 C254.97,244.73 255.25,240.19 255.50,235.00 C255.79,229.08 256.03,222.33 256.30,216.00 C256.67,220.00 257.07,223.52 257.40,228.00 C257.82,233.69 258.06,241.91 258.50,247.40 C258.83,251.47 259.23,254.47 259.60,258.00 C259.93,247.00 260.23,235.54 260.60,225.00 C260.94,215.31 261.33,206.40 261.70,197.10 C262.00,203.07 262.33,208.27 262.60,215.00 C262.95,223.71 263.04,237.46 263.50,245.00 C263.78,249.57 264.17,252.33 264.50,256.00 C264.83,256.00 265.16,256.00 265.50,256.00 C265.86,256.00 266.23,256.00 266.60,256.00 C266.97,248.47 267.33,240.93 267.70,233.40 C267.97,235.60 268.24,237.57 268.50,240.00 C268.82,242.99 269.10,246.67 269.40,250.00" stroke="#ff2020" stroke-width="1.15" />
<path d="M181.60,199.10 C184.93,199.27 188.43,199.33 191.60,199.60 C194.50,199.85 197.63,200.16 199.90,200.60 C201.52,200.91 202.64,201.24 204.00,201.70 C205.41,202.17 206.92,202.69 208.20,203.40 C209.41,204.07 210.44,204.87 211.50,205.80 C212.65,206.81 213.82,208.00 214.80,209.30 C215.83,210.66 216.68,212.22 217.50,213.80 C218.35,215.45 219.06,217.24 219.80,219.00 C220.56,220.80 221.31,222.68 222.00,224.50 C222.67,226.28 223.27,228.14 223.90,229.80 C224.47,231.29 225.05,232.61 225.60,234.00 C226.15,235.37 226.61,236.81 227.20,238.10 C227.75,239.30 228.39,240.49 229.00,241.50 C229.52,242.36 230.07,243.03 230.60,243.80 C230.97,242.20 231.39,240.80 231.70,239.00 C232.09,236.72 232.33,234.27 232.60,231.20 C232.99,226.78 233.21,220.46 233.60,215.00 C234.00,209.40 234.46,202.77 235.00,198.00 C235.39,194.52 235.87,192.00 236.30,189.00 C236.73,192.00 237.21,194.52 237.60,198.00 C238.14,202.77 238.58,209.40 239.00,215.00 C239.41,220.46 239.33,226.84 240.10,231.20 C240.64,234.24 241.57,236.27 242.30,238.80 C243.00,236.63 243.82,234.82 244.40,232.30 C245.17,228.96 245.59,223.69 246.10,220.40 C246.46,218.06 246.77,216.40 247.10,214.40 C247.67,218.20 248.37,221.39 248.80,225.80 C249.39,231.85 249.04,243.43 249.80,247.40 C250.09,248.90 250.53,249.53 250.90,250.60 C251.63,247.73 252.42,245.04 253.10,242.00 C253.86,238.62 254.48,234.80 255.20,231.20 C255.92,227.60 256.64,222.61 257.40,220.40 C257.76,219.36 258.13,218.93 258.50,218.20 C258.83,219.47 259.20,220.45 259.50,222.00 C259.95,224.39 260.16,228.01 260.60,231.20 C261.08,234.66 261.75,238.40 262.30,242.00 C262.85,245.60 263.38,249.82 263.90,252.80 C264.27,254.91 264.63,256.40 265.00,258.20 C265.33,252.80 265.55,246.38 266.00,242.00 C266.31,238.99 266.73,236.93 267.10,234.40 C267.47,240.53 267.83,246.67 268.20,252.80 C268.53,251.87 268.87,250.93 269.20,250.00" stroke="#1818ff" stroke-width="1.15" stroke-dasharray="2.6 1.0 0.9 1.0"/>
<path d="M181.60,252.70 C184.93,252.70 188.03,252.77 191.60,252.70 C195.72,252.62 200.99,252.46 204.90,252.20 C207.99,251.99 210.85,252.09 213.20,251.40 C215.11,250.84 216.66,250.14 218.10,248.90 C219.75,247.49 221.06,245.16 222.30,243.10 C223.57,241.00 224.51,238.34 225.60,236.40 C226.48,234.84 227.33,233.67 228.20,232.30 C228.93,233.73 229.74,234.93 230.40,236.60 C231.25,238.74 231.77,242.05 232.60,244.20 C233.24,245.87 234.00,247.07 234.70,248.50 C235.43,245.97 236.35,243.53 236.90,240.90 C237.47,238.14 237.63,235.17 238.00,232.30 C238.70,234.80 239.54,236.79 240.10,239.80 C240.92,244.14 240.37,253.19 241.70,256.00 C242.28,257.23 243.17,257.47 243.90,258.20 C244.80,257.47 245.85,257.02 246.60,256.00 C247.58,254.68 247.99,252.13 248.80,250.60 C249.45,249.36 250.20,248.47 250.90,247.40 C251.63,249.93 252.37,252.47 253.10,255.00 C253.80,250.67 254.45,246.13 255.20,242.00 C255.89,238.23 256.51,234.78 257.40,231.20 C258.30,227.58 259.69,223.38 260.60,220.40 C261.25,218.29 261.73,216.80 262.30,215.00 C262.87,217.33 263.27,220.06 264.00,222.00 C264.57,223.50 265.45,224.15 266.00,225.80 C266.87,228.43 267.32,232.38 267.70,236.60 C268.23,242.51 268.03,250.87 268.20,258.00 C268.53,253.67 268.87,249.33 269.20,245.00" stroke="#10b0a4" stroke-width="1.15" stroke-dasharray="2.9 2.7"/>
</g>
<rect x="313.40" y="150.50" width="91.60" height="108.90" fill="none" stroke="#dadada" stroke-width="0.8"/>
<text x="311.80" y="154.00" font-size="9.1" text-anchor="end" font-family='"Liberation Serif", serif' class="tk">1</text>
<text x="311.80" y="175.78" font-size="9.1" text-anchor="end" font-family='"Liberation Serif", serif' class="tk">0.8</text>
<text x="311.80" y="197.56" font-size="9.1" text-anchor="end" font-family='"Liberation Serif", serif' class="tk">0.6</text>
<text x="311.80" y="219.34" font-size="9.1" text-anchor="end" font-family='"Liberation Serif", serif' class="tk">0.4</text>
<text x="311.80" y="241.12" font-size="9.1" text-anchor="end" font-family='"Liberation Serif", serif' class="tk">0.2</text>
<text x="311.80" y="262.90" font-size="9.1" text-anchor="end" font-family='"Liberation Serif", serif' class="tk">0</text>
<text x="312.90" y="273.40" font-size="9.1" text-anchor="middle" class="tk" font-family='"Liberation Serif", serif'>10<tspan font-size="7.4" dy="-5.2">2</tspan></text>
<text x="397.60" y="273.40" font-size="9.1" text-anchor="middle" class="tk" font-family='"Liberation Serif", serif'>10<tspan font-size="7.4" dy="-5.2">0</tspan></text>
<text x="357.00" y="284.00" font-size="9.2" text-anchor="middle" font-family='"Liberation Serif", serif' >Period (year)</text>
<text x="0" y="0" transform="translate(291.40,205.45) rotate(-90)" font-size="9.2" text-anchor="middle" font-family='"Liberation Serif", serif'>Coherence</text>
<text x="289.80" y="154.50" font-size="9.4" text-anchor="middle" font-family='"Liberation Sans", sans-serif' >(g)</text>
<g clip-path="url(#cp12)" fill="none" stroke-linejoin="round">
<path d="M317.00,252.30 C321.87,252.30 326.84,252.30 331.60,252.30 C336.16,252.30 341.42,252.27 345.00,252.30 C347.40,252.32 349.16,252.30 351.00,252.40 C352.58,252.48 354.10,252.60 355.40,252.80 C356.44,252.96 357.26,253.02 358.20,253.40 C359.30,253.85 360.48,254.76 361.50,255.50 C362.47,256.20 363.31,257.13 364.20,257.70 C364.94,258.18 365.67,258.43 366.40,258.80 C367.10,256.47 367.74,253.97 368.50,251.80 C369.18,249.87 369.97,248.20 370.70,246.40 C371.23,248.20 371.74,249.92 372.30,251.80 C372.91,253.84 373.57,256.07 374.20,258.20 C374.83,254.97 375.28,251.15 376.10,248.50 C376.70,246.55 377.30,244.92 378.20,243.60 C378.96,242.48 380.06,241.96 380.90,240.90 C381.87,239.68 382.70,238.03 383.60,236.60 C384.17,237.13 384.73,237.67 385.30,238.20 C385.83,237.30 386.37,236.40 386.90,235.50 C387.43,236.23 388.07,236.80 388.50,237.70 C389.04,238.85 389.23,240.57 389.60,242.00 C389.97,236.60 390.33,230.35 390.70,225.80 C390.97,222.48 391.23,220.07 391.50,217.20 C391.77,220.80 392.04,223.62 392.30,228.00 C392.69,234.77 393.03,245.27 393.40,253.90 C393.77,246.33 394.12,238.13 394.50,231.20 C394.82,225.34 395.11,220.14 395.50,215.00 C395.85,210.32 396.30,206.07 396.70,201.60 C397.03,206.07 397.40,209.56 397.70,215.00 C398.16,223.45 397.52,242.23 398.80,247.40 C399.20,249.00 399.87,249.60 400.40,250.70 C400.77,244.20 401.13,237.70 401.50,231.20 C401.77,234.13 402.07,236.54 402.30,240.00 C402.64,244.97 402.83,252.13 403.10,258.20 C403.40,253.80 403.66,249.09 404.00,245.00 C404.30,241.43 404.67,238.33 405.00,235.00" stroke="#ff2020" stroke-width="1.15" />
<path d="M316.90,166.60 C321.50,166.70 326.36,166.79 330.70,166.90 C334.57,166.99 338.46,166.97 341.70,167.20 C344.27,167.38 346.45,167.55 348.60,168.00 C350.56,168.41 352.41,169.04 354.10,169.70 C355.62,170.29 357.04,170.80 358.30,171.70 C359.59,172.62 360.80,173.79 361.70,175.20 C362.69,176.74 363.21,178.85 363.80,180.70 C364.38,182.52 364.73,184.37 365.20,186.20 C365.67,188.03 366.13,189.96 366.60,191.70 C367.03,193.28 367.24,194.88 367.90,196.20 C368.51,197.42 369.66,198.13 370.30,199.40 C371.06,200.91 371.40,202.84 371.90,204.80 C372.48,207.11 372.82,210.44 373.50,212.40 C373.96,213.73 374.57,214.53 375.10,215.60 C375.63,214.17 376.24,213.15 376.70,211.30 C377.47,208.18 377.81,202.40 378.40,198.40 C378.92,194.90 379.21,190.62 380.00,188.60 C380.40,187.58 380.93,187.20 381.40,186.50 C381.83,188.67 382.40,190.41 382.70,193.00 C383.14,196.77 382.93,202.34 383.20,207.00 C383.47,211.67 383.93,216.33 384.30,221.00 C384.67,219.20 384.81,216.64 385.40,215.60 C385.71,215.06 386.15,214.95 386.50,214.60 C386.85,214.25 387.17,213.87 387.50,213.50 C387.70,216.00 387.89,218.11 388.10,221.00 C388.38,224.94 388.65,230.73 389.00,235.00 C389.30,238.62 389.59,242.25 390.00,245.00 C390.29,246.96 390.67,248.33 391.00,250.00 C391.33,245.00 391.62,240.32 392.00,235.00 C392.44,228.95 392.35,217.95 393.50,215.60 C393.79,215.00 394.23,214.93 394.60,214.60 C394.93,217.47 395.32,219.85 395.60,223.20 C396.00,227.87 396.17,234.56 396.50,240.00 C396.81,245.14 397.17,250.00 397.50,255.00 C397.83,250.00 398.19,245.36 398.50,240.00 C398.86,233.81 398.97,224.55 399.50,220.00 C399.78,217.62 400.17,216.40 400.50,214.60 C400.83,218.07 401.21,220.78 401.50,225.00 C401.94,231.53 402.17,241.67 402.50,250.00 C402.83,243.33 403.18,235.82 403.50,230.00 C403.74,225.49 403.97,222.00 404.20,218.00 C404.47,219.33 404.73,220.67 405.00,222.00" stroke="#1818ff" stroke-width="1.15" stroke-dasharray="2.6 1.0 0.9 1.0"/>
<path d="M317.00,248.50 C320.07,248.77 323.19,249.03 326.20,249.30 C329.12,249.56 332.15,249.65 334.80,250.10 C337.13,250.49 339.39,250.99 341.30,251.70 C342.92,252.30 344.08,253.13 345.60,253.90 C347.30,254.76 349.18,255.79 351.00,256.60 C352.78,257.39 355.06,258.41 356.40,258.70 C357.14,258.86 357.55,259.01 358.20,258.80 C359.19,258.48 360.54,257.39 361.50,256.10 C362.84,254.31 363.77,250.95 364.70,248.50 C365.55,246.26 366.13,244.06 366.90,242.00 C367.61,240.11 368.11,237.45 369.10,236.60 C369.70,236.08 370.50,236.27 371.20,236.10 C371.93,237.33 372.81,238.29 373.40,239.80 C374.19,241.83 374.47,244.87 375.00,247.40 C375.53,249.93 376.08,252.91 376.60,255.00 C376.97,256.49 377.33,257.53 377.70,258.80 C378.23,257.90 378.84,257.24 379.30,256.10 C379.98,254.44 380.32,251.92 380.90,249.60 C381.57,246.91 382.31,243.56 383.10,240.90 C383.79,238.59 384.57,236.63 385.30,234.50 C386.00,237.00 386.71,239.46 387.40,242.00 C388.11,244.62 388.61,247.86 389.50,250.00 C390.16,251.59 391.25,252.52 391.80,253.90 C392.34,255.26 392.47,256.77 392.80,258.20 C393.17,254.60 393.47,251.62 393.90,247.40 C394.51,241.44 395.64,232.53 396.10,225.80 C396.51,219.91 396.50,214.73 396.70,209.20 C397.03,211.13 397.37,212.80 397.70,215.00 C398.14,217.88 398.57,221.67 399.00,225.00 C399.47,223.47 399.93,221.93 400.40,220.40 C400.93,225.80 401.55,231.11 402.00,236.60 C402.46,242.27 402.73,248.13 403.10,253.90 C403.47,249.27 403.90,245.17 404.20,240.00 C404.57,233.51 404.73,225.33 405.00,218.00" stroke="#10b0a4" stroke-width="1.15" stroke-dasharray="2.9 2.7"/>
</g>
<rect x="448.40" y="150.50" width="91.60" height="108.90" fill="none" stroke="#dadada" stroke-width="0.8"/>
<text x="446.80" y="154.00" font-size="9.1" text-anchor="end" font-family='"Liberation Serif", serif' class="tk">1</text>
<text x="446.80" y="175.78" font-size="9.1" text-anchor="end" font-family='"Liberation Serif", serif' class="tk">0.8</text>
<text x="446.80" y="197.56" font-size="9.1" text-anchor="end" font-family='"Liberation Serif", serif' class="tk">0.6</text>
<text x="446.80" y="219.34" font-size="9.1" text-anchor="end" font-family='"Liberation Serif", serif' class="tk">0.4</text>
<text x="446.80" y="241.12" font-size="9.1" text-anchor="end" font-family='"Liberation Serif", serif' class="tk">0.2</text>
<text x="446.80" y="262.90" font-size="9.1" text-anchor="end" font-family='"Liberation Serif", serif' class="tk">0</text>
<text x="447.90" y="273.40" font-size="9.1" text-anchor="middle" class="tk" font-family='"Liberation Serif", serif'>10<tspan font-size="7.4" dy="-5.2">2</tspan></text>
<text x="532.60" y="273.40" font-size="9.1" text-anchor="middle" class="tk" font-family='"Liberation Serif", serif'>10<tspan font-size="7.4" dy="-5.2">0</tspan></text>
<text x="492.00" y="284.00" font-size="9.2" text-anchor="middle" font-family='"Liberation Serif", serif' >Period (year)</text>
<text x="0" y="0" transform="translate(426.40,205.45) rotate(-90)" font-size="9.2" text-anchor="middle" font-family='"Liberation Serif", serif'>Coherence</text>
<text x="424.80" y="154.50" font-size="9.4" text-anchor="middle" font-family='"Liberation Sans", sans-serif' >(h)</text>
<g clip-path="url(#cp13)" fill="none" stroke-linejoin="round">
<path d="M451.90,169.40 C455.13,169.57 458.51,169.61 461.60,169.90 C464.45,170.16 467.36,170.46 469.80,171.00 C471.84,171.45 473.50,171.92 475.30,172.70 C477.20,173.53 479.25,174.64 480.90,175.90 C482.46,177.09 483.75,178.52 485.00,180.00 C486.26,181.49 487.38,183.11 488.40,184.80 C489.45,186.53 490.38,188.43 491.20,190.30 C492.01,192.14 492.64,193.92 493.30,195.90 C494.02,198.07 494.73,200.49 495.30,202.80 C495.86,205.09 496.28,207.45 496.70,209.70 C497.10,211.84 497.44,213.54 497.80,216.00 C498.31,219.45 498.81,224.43 499.30,228.50 C499.77,232.39 500.23,236.10 500.70,239.90 C501.17,243.70 501.52,248.17 502.10,251.30 C502.51,253.54 503.03,255.10 503.50,257.00 C504.00,253.67 504.38,249.62 505.00,247.00 C505.41,245.25 505.93,244.13 506.40,242.70 C506.87,244.60 507.37,246.30 507.80,248.40 C508.32,250.96 508.73,254.13 509.20,257.00 C509.93,253.67 510.69,250.39 511.40,247.00 C512.13,243.50 512.80,239.87 513.50,236.30 C514.20,238.43 514.80,240.52 515.60,242.70 C516.46,245.04 517.10,248.52 518.50,249.90 C519.49,250.87 521.18,250.37 522.10,251.30 C523.25,252.47 523.50,255.10 524.20,257.00 C524.67,252.23 525.03,247.11 525.60,242.70 C526.09,238.87 526.73,235.57 527.30,232.00 C527.93,237.00 528.60,242.51 529.20,247.00 C529.69,250.67 530.13,253.67 530.60,257.00 C531.20,248.93 531.80,240.87 532.40,232.80 C533.00,236.10 533.70,239.09 534.20,242.70 C534.80,247.02 535.13,252.23 535.60,257.00 C536.30,247.97 537.00,238.93 537.70,229.90 C538.17,238.93 538.63,247.97 539.10,257.00 C539.40,254.67 539.70,252.33 540.00,250.00" stroke="#ff2020" stroke-width="1.15" />
<path d="M452.20,236.90 C457.77,236.90 463.43,236.95 468.90,236.90 C474.19,236.85 480.79,236.83 484.50,236.60 C486.56,236.47 487.86,236.49 489.30,236.10 C490.59,235.75 491.70,235.07 492.80,234.50 C493.83,233.97 494.81,233.41 495.70,232.80 C496.53,232.23 497.27,231.61 498.00,231.00 C498.70,230.41 499.33,229.80 500.00,229.20 C500.70,231.80 501.48,233.99 502.10,237.00 C502.94,241.03 503.24,247.65 504.20,251.30 C504.82,253.67 505.67,255.10 506.40,257.00 C507.10,256.03 507.80,255.07 508.50,254.10 C509.23,255.07 509.97,256.03 510.70,257.00 C511.40,253.67 512.10,250.85 512.80,247.00 C513.74,241.79 514.74,234.42 515.60,228.50 C516.39,223.05 516.92,216.12 517.80,212.80 C518.23,211.18 518.73,210.47 519.20,209.30 C519.90,210.93 520.75,212.09 521.30,214.20 C522.20,217.67 522.27,223.25 522.80,228.50 C523.45,234.92 523.89,244.72 524.90,249.90 C525.49,252.94 526.30,254.63 527.00,257.00 C527.50,254.67 528.06,252.63 528.50,250.00 C529.06,246.65 529.42,242.99 529.90,238.50 C530.57,232.19 531.30,223.30 532.00,215.70 C532.73,222.33 533.47,229.09 534.20,235.60 C534.90,241.88 535.60,247.93 536.30,254.10 C537.00,249.83 537.70,245.57 538.40,241.30 C538.93,243.53 539.47,245.77 540.00,248.00" stroke="#1818ff" stroke-width="1.15" stroke-dasharray="2.6 1.0 0.9 1.0"/>
<path d="M452.20,254.50 C455.77,254.50 459.23,254.62 462.90,254.50 C466.79,254.37 471.60,254.14 474.90,253.70 C477.26,253.39 479.03,253.03 480.90,252.50 C482.61,252.01 484.34,251.47 485.70,250.70 C486.88,250.03 487.83,249.26 488.70,248.30 C489.61,247.28 490.29,245.85 491.00,244.70 C491.64,243.66 492.07,242.68 492.80,241.70 C493.61,240.61 494.84,240.10 495.70,238.50 C497.28,235.55 497.78,227.80 499.30,224.20 C500.32,221.77 501.63,220.40 502.80,218.50 C503.53,221.83 504.40,225.15 505.00,228.50 C505.60,231.82 505.48,236.27 506.40,238.50 C506.94,239.81 507.80,240.37 508.50,241.30 C509.93,238.93 511.46,236.82 512.80,234.20 C514.33,231.20 515.44,226.73 517.00,224.20 C518.12,222.39 519.40,221.40 520.60,220.00 C521.33,222.83 522.17,225.10 522.80,228.50 C523.72,233.46 523.74,242.34 524.90,247.00 C525.64,249.98 526.77,251.73 527.70,254.10 C528.67,246.50 529.84,238.01 530.60,231.30 C531.20,226.01 531.53,221.83 532.00,217.10 C532.73,220.90 533.51,223.92 534.20,228.50 C535.23,235.31 536.07,245.57 537.00,254.10 C537.50,251.07 537.91,247.57 538.50,245.00 C538.95,243.07 539.50,241.67 540.00,240.00" stroke="#10b0a4" stroke-width="1.15" stroke-dasharray="2.9 2.7"/>
</g>
<rect x="43.10" y="294.20" width="91.60" height="109.20" fill="none" stroke="#dadada" stroke-width="0.8"/>
<text x="41.50" y="298.30" font-size="9.1" text-anchor="end" font-family='"Liberation Serif", serif' class="tk">4</text>
<text x="41.50" y="325.60" font-size="9.1" text-anchor="end" font-family='"Liberation Serif", serif' class="tk">2</text>
<text x="41.50" y="352.90" font-size="9.1" text-anchor="end" font-family='"Liberation Serif", serif' class="tk">0</text>
<text x="41.50" y="380.20" font-size="9.1" text-anchor="end" font-family='"Liberation Serif", serif' class="tk">&#8722;2</text>
<text x="41.50" y="407.50" font-size="9.1" text-anchor="end" font-family='"Liberation Serif", serif' class="tk">&#8722;4</text>
<text x="42.60" y="417.40" font-size="9.1" text-anchor="middle" class="tk" font-family='"Liberation Serif", serif'>10<tspan font-size="7.4" dy="-5.2">2</tspan></text>
<text x="127.30" y="417.40" font-size="9.1" text-anchor="middle" class="tk" font-family='"Liberation Serif", serif'>10<tspan font-size="7.4" dy="-5.2">0</tspan></text>
<text x="86.70" y="427.60" font-size="9.2" text-anchor="middle" font-family='"Liberation Serif", serif' >Period (year)</text>
<text x="0" y="0" transform="translate(21.80,347.90) rotate(-90)" font-size="9.2" text-anchor="middle" font-family='"Liberation Serif", serif'>Phase angle</text>
<text x="19.50" y="298.40" font-size="9.4" text-anchor="middle" font-family='"Liberation Sans", sans-serif' >(i)</text>
<g clip-path="url(#cp20)" fill="none" stroke-linejoin="round">
<path d="M46.80,348.80 C52.10,348.80 57.59,348.86 62.70,348.80 C67.46,348.75 72.16,348.67 76.50,348.50 C80.38,348.35 84.47,348.15 87.50,347.90 C89.65,347.72 91.60,347.48 93.00,347.30 C93.87,347.19 94.48,346.90 95.10,347.00 C95.63,347.09 96.10,347.24 96.50,347.70 C97.17,348.48 97.56,350.32 97.90,352.00 C98.36,354.23 98.39,357.18 98.60,360.00 C98.83,363.15 98.99,366.85 99.20,370.00 C99.39,372.82 99.43,376.24 99.80,378.00 C99.99,378.91 100.27,379.33 100.50,380.00 C100.90,379.07 101.35,378.44 101.70,377.20 C102.33,374.97 102.67,371.02 103.10,367.50 C103.61,363.33 103.84,357.03 104.50,353.80 C104.87,351.97 105.37,351.00 105.80,349.60 C106.50,350.07 107.13,350.56 107.90,351.00 C108.75,351.49 109.76,352.05 110.70,352.40 C111.59,352.73 112.56,352.85 113.40,353.10 C114.15,353.32 114.80,353.57 115.50,353.80 C115.97,352.87 116.42,351.84 116.90,351.00 C117.32,350.26 117.77,349.67 118.20,349.00 C118.67,349.67 119.23,349.97 119.60,351.00 C120.61,353.78 120.60,361.99 121.00,367.50 C121.40,373.02 121.68,379.76 122.00,384.10 C122.21,386.90 122.40,388.70 122.60,391.00 C122.90,387.77 123.23,384.96 123.50,381.30 C123.85,376.53 123.79,368.80 124.40,364.80 C124.76,362.45 125.22,361.12 125.80,359.30 C126.39,357.45 127.17,355.50 127.90,353.80 C128.55,352.29 129.28,350.84 129.90,349.60 C130.40,348.60 130.68,347.60 131.30,346.90 C131.87,346.26 132.77,345.57 133.40,345.50 C133.87,345.45 134.27,345.83 134.70,346.00" stroke="#ff2020" stroke-width="1.15" />
<path d="M46.80,306.30 C52.10,306.30 57.59,306.24 62.70,306.30 C67.46,306.35 72.69,306.45 76.50,306.60 C79.20,306.71 81.40,306.77 83.40,307.00 C84.95,307.18 86.12,307.48 87.50,307.70 C88.89,307.92 90.35,308.20 91.70,308.30 C92.94,308.39 94.10,308.30 95.30,308.30 C95.37,315.53 95.44,322.18 95.50,330.00 C95.57,339.19 95.63,350.15 95.70,360.00 C95.77,369.55 95.83,378.80 95.90,388.20 C96.70,387.73 97.55,387.51 98.30,386.80 C99.29,385.86 100.09,384.06 101.00,382.70 C101.92,381.33 102.88,379.98 103.80,378.60 C104.72,377.21 105.48,375.47 106.50,374.40 C107.35,373.51 108.33,372.85 109.30,372.40 C110.17,371.99 111.11,372.03 112.00,371.70 C112.94,371.35 113.88,370.77 114.80,370.30 C115.71,369.84 116.60,369.37 117.50,368.90 C118.20,369.83 119.00,370.44 119.60,371.70 C120.54,373.67 120.80,378.49 121.70,380.00 C122.12,380.71 122.63,380.87 123.10,381.30 C123.77,379.47 124.43,377.63 125.10,375.80 C125.80,376.03 126.50,376.27 127.20,376.50 C127.67,373.50 128.14,370.43 128.60,367.50 C129.04,364.70 129.45,362.04 129.90,359.30 C130.35,356.54 130.94,353.65 131.30,351.00 C131.63,348.57 131.76,346.24 132.00,344.00 C132.23,341.92 132.44,339.91 132.70,338.00 C132.94,336.25 133.10,334.44 133.50,333.00 C133.82,331.85 134.30,331.00 134.70,330.00" stroke="#1818ff" stroke-width="1.15" stroke-dasharray="2.6 1.0 0.9 1.0"/>
<path d="M46.80,348.80 C52.10,348.50 58.07,348.34 62.70,347.90 C66.31,347.55 69.24,347.25 72.30,346.60 C75.19,345.99 78.13,345.03 80.60,344.20 C82.64,343.52 84.43,342.94 86.10,342.10 C87.64,341.32 89.05,340.52 90.30,339.40 C91.60,338.24 92.85,336.90 93.70,335.20 C94.69,333.21 95.04,330.10 95.50,328.00 C95.85,326.39 96.00,325.48 96.30,323.70 C96.78,320.79 97.22,315.14 98.00,312.20 C98.51,310.29 99.03,308.55 99.80,307.60 C100.30,306.99 100.93,306.87 101.50,306.50 C102.07,306.87 102.76,306.91 103.20,307.60 C104.09,308.99 104.03,312.91 104.40,315.70 C104.80,318.67 105.02,322.37 105.50,324.90 C105.84,326.71 105.93,328.56 106.70,329.50 C107.27,330.19 108.27,330.09 109.00,330.60 C109.82,331.18 110.68,331.86 111.30,332.90 C112.14,334.32 112.48,336.51 113.00,338.70 C113.67,341.48 113.83,346.15 114.80,348.30 C115.37,349.57 116.20,350.10 116.90,351.00 C117.57,350.53 118.24,350.27 118.90,349.60 C119.84,348.65 120.77,346.87 121.70,345.50 C122.37,345.97 123.18,346.14 123.70,346.90 C124.50,348.06 124.63,350.57 125.10,352.40 C125.57,354.23 126.03,356.07 126.50,357.90 C127.20,355.60 128.04,353.42 128.60,351.00 C129.20,348.40 129.55,345.87 129.90,342.80 C130.34,338.91 130.43,333.77 130.80,329.50 C131.14,325.52 131.59,321.62 132.00,318.00 C132.36,314.76 132.63,310.96 133.10,308.80 C133.37,307.58 133.70,306.93 134.00,306.00" stroke="#10b0a4" stroke-width="1.15" stroke-dasharray="2.9 2.7"/>
</g>
<rect x="178.30" y="294.20" width="91.60" height="109.20" fill="none" stroke="#dadada" stroke-width="0.8"/>
<text x="176.70" y="298.30" font-size="9.1" text-anchor="end" font-family='"Liberation Serif", serif' class="tk">4</text>
<text x="176.70" y="325.60" font-size="9.1" text-anchor="end" font-family='"Liberation Serif", serif' class="tk">2</text>
<text x="176.70" y="352.90" font-size="9.1" text-anchor="end" font-family='"Liberation Serif", serif' class="tk">0</text>
<text x="176.70" y="380.20" font-size="9.1" text-anchor="end" font-family='"Liberation Serif", serif' class="tk">&#8722;2</text>
<text x="176.70" y="407.50" font-size="9.1" text-anchor="end" font-family='"Liberation Serif", serif' class="tk">&#8722;4</text>
<text x="177.80" y="417.40" font-size="9.1" text-anchor="middle" class="tk" font-family='"Liberation Serif", serif'>10<tspan font-size="7.4" dy="-5.2">2</tspan></text>
<text x="262.50" y="417.40" font-size="9.1" text-anchor="middle" class="tk" font-family='"Liberation Serif", serif'>10<tspan font-size="7.4" dy="-5.2">0</tspan></text>
<text x="221.90" y="427.60" font-size="9.2" text-anchor="middle" font-family='"Liberation Serif", serif' >Period (year)</text>
<text x="0" y="0" transform="translate(157.00,347.90) rotate(-90)" font-size="9.2" text-anchor="middle" font-family='"Liberation Serif", serif'>Phase angle</text>
<text x="154.70" y="298.40" font-size="9.4" text-anchor="middle" font-family='"Liberation Sans", sans-serif' >(j)</text>
<g clip-path="url(#cp21)" fill="none" stroke-linejoin="round">
<path d="M181.80,391.90 C196.30,391.90 210.80,391.90 225.30,391.90 C225.37,363.37 225.43,334.83 225.50,306.30 C227.53,306.30 229.57,306.30 231.60,306.30 C231.80,334.40 232.00,362.50 232.20,390.60 C232.90,389.33 233.68,388.27 234.30,386.80 C235.06,384.98 235.34,381.84 236.20,380.40 C236.74,379.49 237.47,379.13 238.10,378.50 C238.73,379.57 239.43,380.41 240.00,381.70 C240.75,383.41 241.15,386.29 241.90,388.00 C242.47,389.29 243.17,390.13 243.80,391.20 C244.13,391.13 244.47,391.07 244.80,391.00 C244.80,362.67 244.80,334.33 244.80,306.00 C245.10,306.20 245.43,306.24 245.70,306.60 C246.23,307.31 246.56,309.02 246.90,310.60 C247.38,312.81 247.63,315.91 248.00,318.70 C248.40,321.67 248.82,324.83 249.20,327.90 C249.58,330.97 249.88,334.26 250.30,337.10 C250.66,339.57 251.12,341.78 251.50,344.00 C251.85,346.07 251.99,348.16 252.50,350.00 C252.96,351.66 253.77,353.17 254.30,354.60 C254.76,355.84 255.10,356.93 255.50,358.10 C255.90,356.13 256.28,354.06 256.70,352.20 C257.08,350.51 257.58,349.28 257.90,347.40 C258.35,344.80 258.53,341.10 258.80,338.00 C259.06,334.97 259.27,332.00 259.50,329.00 C259.57,346.27 259.63,363.53 259.70,380.80 C260.10,378.03 260.50,375.27 260.90,372.50 C261.30,372.90 261.75,373.14 262.10,373.70 C262.62,374.54 262.99,375.71 263.30,377.30 C263.87,380.22 263.83,385.77 264.10,390.00 C264.10,363.17 264.10,336.33 264.10,309.50 C264.43,316.33 264.77,323.17 265.10,330.00 C265.53,327.00 265.75,323.79 266.40,321.00 C266.99,318.49 268.16,316.27 268.70,314.00 C269.19,311.94 269.30,310.00 269.60,308.00" stroke="#ff2020" stroke-width="1.15" />
<path d="M181.80,306.30 C187.10,306.53 192.59,306.68 197.70,307.00 C202.47,307.29 207.69,307.67 211.50,308.10 C214.20,308.40 216.23,308.73 218.40,309.10 C220.34,309.43 222.37,309.99 223.90,310.20 C224.98,310.35 225.81,310.61 226.70,310.40 C227.64,310.18 228.59,309.43 229.40,308.80 C230.19,308.19 230.80,307.40 231.50,306.70 C231.77,317.80 232.13,327.85 232.30,340.00 C232.51,354.69 232.43,372.47 232.50,388.70 C233.10,388.07 233.68,387.57 234.30,386.80 C235.13,385.78 236.12,384.48 236.90,383.00 C237.86,381.19 238.60,378.84 239.40,376.60 C240.27,374.19 240.86,370.77 241.90,369.00 C242.58,367.84 243.43,367.33 244.20,366.50 C244.80,367.30 245.53,367.90 246.00,368.90 C246.61,370.18 246.83,371.94 247.20,373.70 C247.65,375.83 248.02,378.42 248.40,380.80 C248.78,383.19 249.11,386.13 249.50,388.00 C249.76,389.22 250.03,390.00 250.30,391.00 C250.70,363.00 251.10,335.00 251.50,307.00 C251.97,335.00 252.43,363.00 252.90,391.00 C253.33,363.00 253.77,335.00 254.20,307.00 C254.57,335.00 254.93,363.00 255.30,391.00 C255.67,363.00 256.03,335.00 256.40,307.00 C257.10,335.00 257.80,363.00 258.50,391.00 C259.17,363.00 259.83,335.00 260.50,307.00 C261.13,335.00 261.77,363.00 262.40,391.00 C263.03,363.00 263.67,335.00 264.30,307.00 C265.03,335.00 265.77,363.00 266.50,391.00 C267.27,363.00 268.03,335.00 268.80,307.00 C269.07,318.00 269.33,329.00 269.60,340.00" stroke="#1818ff" stroke-width="1.15" stroke-dasharray="2.6 1.0 0.9 1.0"/>
<path d="M181.80,391.90 C184.80,391.67 187.65,391.52 190.80,391.20 C194.29,390.84 198.26,390.39 201.80,389.80 C205.15,389.24 208.56,388.55 211.50,387.80 C214.01,387.16 216.43,386.50 218.40,385.70 C219.98,385.06 221.10,384.14 222.50,383.60 C223.86,383.08 225.45,382.78 226.70,382.50 C227.69,382.28 228.50,382.26 229.40,382.00 C230.34,381.73 231.27,381.27 232.20,380.90 C232.63,382.27 233.07,383.63 233.50,385.00 C233.73,384.53 234.04,384.29 234.20,383.60 C235.58,377.78 234.27,335.87 234.30,312.00 C234.73,313.50 234.96,315.14 235.60,316.50 C236.21,317.79 237.18,318.79 238.00,320.00 C238.88,321.29 239.80,322.67 240.70,324.00 C241.10,319.33 241.59,313.11 241.90,310.00 C242.06,308.44 242.17,307.67 242.30,306.50 C242.37,326.50 241.18,354.36 242.50,366.50 C243.07,371.76 244.06,374.06 245.00,378.00 C246.01,382.21 247.27,386.67 248.40,391.00 C248.67,363.00 248.93,335.00 249.20,307.00 C249.63,314.67 250.11,322.60 250.50,330.00 C250.87,336.90 251.17,343.33 251.50,350.00" stroke="#10b0a4" stroke-width="1.15" stroke-dasharray="2.9 2.7"/>
<path d="M253.70,307.00 L254.10,391.00" stroke="#10b0a4" stroke-width="1.15" stroke-dasharray="2.9 2.7"/>
<path d="M256.70,345.00 L256.90,391.00" stroke="#10b0a4" stroke-width="1.15" stroke-dasharray="2.9 2.7"/>
<path d="M258.40,307.00 L258.60,350.00" stroke="#10b0a4" stroke-width="1.15" stroke-dasharray="2.9 2.7"/>
<path d="M263.00,307.00 L263.20,360.00" stroke="#10b0a4" stroke-width="1.15" stroke-dasharray="2.9 2.7"/>
<path d="M266.30,340.00 L266.50,391.00" stroke="#10b0a4" stroke-width="1.15" stroke-dasharray="2.9 2.7"/>
<path d="M268.20,307.00 L268.50,370.00" stroke="#10b0a4" stroke-width="1.15" stroke-dasharray="2.9 2.7"/>
</g>
<rect x="313.40" y="294.20" width="91.60" height="109.20" fill="none" stroke="#dadada" stroke-width="0.8"/>
<text x="311.80" y="298.30" font-size="9.1" text-anchor="end" font-family='"Liberation Serif", serif' class="tk">4</text>
<text x="311.80" y="325.60" font-size="9.1" text-anchor="end" font-family='"Liberation Serif", serif' class="tk">2</text>
<text x="311.80" y="352.90" font-size="9.1" text-anchor="end" font-family='"Liberation Serif", serif' class="tk">0</text>
<text x="311.80" y="380.20" font-size="9.1" text-anchor="end" font-family='"Liberation Serif", serif' class="tk">&#8722;2</text>
<text x="311.80" y="407.50" font-size="9.1" text-anchor="end" font-family='"Liberation Serif", serif' class="tk">&#8722;4</text>
<text x="312.90" y="417.40" font-size="9.1" text-anchor="middle" class="tk" font-family='"Liberation Serif", serif'>10<tspan font-size="7.4" dy="-5.2">2</tspan></text>
<text x="397.60" y="417.40" font-size="9.1" text-anchor="middle" class="tk" font-family='"Liberation Serif", serif'>10<tspan font-size="7.4" dy="-5.2">0</tspan></text>
<text x="357.00" y="427.60" font-size="9.2" text-anchor="middle" font-family='"Liberation Serif", serif' >Period (year)</text>
<text x="0" y="0" transform="translate(292.10,347.90) rotate(-90)" font-size="9.2" text-anchor="middle" font-family='"Liberation Serif", serif'>Phase angle</text>
<text x="289.80" y="298.40" font-size="9.4" text-anchor="middle" font-family='"Liberation Sans", sans-serif' >(k)</text>
<g clip-path="url(#cp22)" fill="none" stroke-linejoin="round">
<path d="M316.80,348.30 C322.10,348.00 327.89,347.78 332.70,347.40 C336.71,347.09 340.30,346.76 343.70,346.30 C346.67,345.90 349.55,345.57 352.00,344.90 C354.05,344.34 355.90,343.56 357.50,342.80 C358.83,342.17 360.06,341.65 361.00,340.80 C361.86,340.02 362.47,339.15 363.00,338.00 C363.69,336.52 364.01,334.61 364.40,332.50 C364.91,329.74 365.19,325.58 365.50,322.80 C365.73,320.71 365.86,318.52 366.10,317.30 C366.22,316.67 366.37,316.37 366.50,315.90 C366.60,323.93 366.73,330.47 366.80,340.00 C366.90,353.87 366.87,374.07 366.90,391.10 C367.53,390.03 367.98,388.64 368.80,387.90 C369.52,387.25 370.78,387.46 371.40,386.70 C372.24,385.67 372.27,383.65 372.60,381.60 C373.09,378.59 373.26,373.84 373.60,370.30 C373.90,367.16 373.99,363.72 374.50,361.40 C374.84,359.84 375.20,358.28 375.80,357.60 C376.15,357.21 376.60,357.20 377.00,357.00 C377.63,357.63 378.34,358.04 378.90,358.90 C379.69,360.11 380.23,361.97 380.80,363.90 C381.54,366.42 382.08,369.74 382.70,372.80 C383.35,376.06 383.48,381.24 384.60,382.90 C385.13,383.67 385.95,383.66 386.50,384.10 C387.00,384.50 387.46,384.74 387.80,385.40 C388.41,386.58 388.47,389.20 388.80,391.10 C388.97,364.13 389.13,337.17 389.30,310.20 C389.77,313.57 390.23,316.93 390.70,320.30 C391.20,320.30 391.70,320.30 392.20,320.30 C392.73,318.43 393.27,316.57 393.80,314.70 C394.40,317.30 395.06,319.54 395.60,322.50 C396.30,326.35 396.88,331.11 397.40,335.90 C398.00,341.41 398.07,348.81 398.90,353.70 C399.50,357.21 400.47,360.65 401.20,362.60 C401.58,363.61 401.93,364.07 402.30,364.80 C402.67,361.10 403.09,356.94 403.40,353.70 C403.64,351.19 403.74,349.25 404.00,347.00 C404.27,344.69 404.67,342.33 405.00,340.00" stroke="#ff2020" stroke-width="1.15" />
<path d="M316.80,306.30 C322.10,306.40 327.59,306.46 332.70,306.60 C337.46,306.73 342.16,306.90 346.50,307.10 C350.38,307.28 354.26,307.56 357.50,307.70 C360.07,307.81 363.01,308.29 364.40,307.90 C365.08,307.71 365.33,307.30 365.80,307.00 C365.93,318.00 366.10,327.87 366.20,340.00 C366.32,354.90 366.33,373.20 366.40,389.80 C367.20,388.77 368.00,387.80 368.80,386.70 C369.67,385.51 370.52,384.10 371.40,382.90 C372.22,381.77 372.95,380.31 373.90,379.70 C374.66,379.21 375.56,379.17 376.40,379.10 C377.23,379.04 378.07,379.39 378.90,379.30 C379.77,379.20 380.63,378.77 381.50,378.50 C382.13,379.53 382.74,380.64 383.40,381.60 C384.01,382.49 384.67,383.27 385.30,384.10 C385.90,383.47 386.51,382.62 387.10,382.20 C387.54,381.89 387.97,381.80 388.40,381.60 C388.67,384.40 388.93,387.20 389.20,390.00 C389.27,362.33 389.33,334.67 389.40,307.00 C389.87,308.00 390.46,308.55 390.80,310.00 C392.79,318.59 391.73,363.33 392.20,390.00 C392.27,362.33 392.33,334.67 392.40,307.00 C392.87,334.67 393.33,362.33 393.80,390.00 C393.93,362.33 394.07,334.67 394.20,307.00 C394.47,314.67 394.59,322.28 395.00,330.00 C395.42,337.84 395.86,347.85 396.70,353.70 C397.20,357.20 397.93,359.32 398.50,362.00 C399.03,364.51 399.54,366.63 400.00,369.30 C400.56,372.52 401.07,377.11 401.50,380.00 C401.80,381.98 402.03,383.33 402.30,385.00 C402.30,359.00 402.30,333.00 402.30,307.00 C402.70,314.67 402.89,323.92 403.50,330.00 C403.91,334.03 404.50,336.67 405.00,340.00" stroke="#1818ff" stroke-width="1.15" stroke-dasharray="2.6 1.0 0.9 1.0"/>
<path d="M316.80,306.30 C322.10,306.40 328.50,306.32 332.70,306.60 C335.48,306.79 337.45,306.97 339.60,307.40 C341.55,307.79 343.46,308.22 345.10,309.00 C346.63,309.72 347.95,310.68 349.20,311.80 C350.50,312.97 351.69,314.36 352.70,315.90 C353.78,317.54 354.62,319.43 355.40,321.40 C356.24,323.54 356.89,326.11 357.50,328.30 C358.04,330.26 358.32,332.06 358.90,333.90 C359.49,335.76 360.24,337.47 361.00,339.40 C361.86,341.57 362.70,344.09 363.80,346.30 C364.90,348.49 366.28,350.65 367.60,352.60 C368.82,354.40 370.18,356.06 371.40,357.60 C372.47,358.96 373.47,360.13 374.50,361.40 C375.13,355.93 375.98,350.06 376.40,345.00 C376.76,340.67 376.52,336.06 377.00,332.90 C377.31,330.82 377.60,329.03 378.30,327.80 C378.80,326.92 379.57,326.53 380.20,325.90 C380.83,327.40 381.61,328.66 382.10,330.40 C382.72,332.59 382.59,335.94 383.30,338.10 C383.87,339.83 384.83,341.03 385.60,342.50 C386.70,338.80 387.80,335.10 388.90,331.40 C389.60,332.93 390.31,334.32 391.00,336.00 C391.81,337.97 392.72,339.91 393.40,342.50 C394.36,346.13 394.89,351.26 395.60,355.90 C396.36,360.90 397.17,367.39 397.80,371.50 C398.21,374.20 398.53,375.97 398.90,378.20 C399.67,366.30 400.56,351.95 401.20,342.50 C401.62,336.27 401.93,332.17 402.30,327.00 C402.70,329.67 402.98,332.66 403.50,335.00 C403.92,336.88 404.50,338.33 405.00,340.00" stroke="#10b0a4" stroke-width="1.15" stroke-dasharray="2.9 2.7"/>
</g>
<rect x="448.40" y="294.20" width="91.60" height="109.20" fill="none" stroke="#dadada" stroke-width="0.8"/>
<text x="446.80" y="298.30" font-size="9.1" text-anchor="end" font-family='"Liberation Serif", serif' class="tk">4</text>
<text x="446.80" y="325.60" font-size="9.1" text-anchor="end" font-family='"Liberation Serif", serif' class="tk">2</text>
<text x="446.80" y="352.90" font-size="9.1" text-anchor="end" font-family='"Liberation Serif", serif' class="tk">0</text>
<text x="446.80" y="380.20" font-size="9.1" text-anchor="end" font-family='"Liberation Serif", serif' class="tk">&#8722;2</text>
<text x="446.80" y="407.50" font-size="9.1" text-anchor="end" font-family='"Liberation Serif", serif' class="tk">&#8722;4</text>
<text x="447.90" y="417.40" font-size="9.1" text-anchor="middle" class="tk" font-family='"Liberation Serif", serif'>10<tspan font-size="7.4" dy="-5.2">2</tspan></text>
<text x="532.60" y="417.40" font-size="9.1" text-anchor="middle" class="tk" font-family='"Liberation Serif", serif'>10<tspan font-size="7.4" dy="-5.2">0</tspan></text>
<text x="492.00" y="427.60" font-size="9.2" text-anchor="middle" font-family='"Liberation Serif", serif' >Period (year)</text>
<text x="0" y="0" transform="translate(427.10,347.90) rotate(-90)" font-size="9.2" text-anchor="middle" font-family='"Liberation Serif", serif'>Phase angle</text>
<text x="424.80" y="298.40" font-size="9.4" text-anchor="middle" font-family='"Liberation Sans", sans-serif' >(l)</text>
<g clip-path="url(#cp23)" fill="none" stroke-linejoin="round">
<path d="M451.50,306.30 C466.30,306.30 481.10,306.30 495.90,306.30 C496.07,317.53 496.26,327.60 496.40,340.00 C496.57,355.29 496.67,374.13 496.80,391.20 C497.63,391.00 498.59,391.07 499.30,390.60 C500.09,390.07 500.73,389.27 501.20,388.00 C502.08,385.62 501.84,380.88 502.10,376.60 C502.43,371.09 502.32,361.35 502.90,357.70 C503.14,356.22 503.38,355.61 503.80,354.50 C504.28,353.22 505.14,351.89 505.70,350.50 C506.28,349.06 506.81,347.74 507.20,346.00 C507.71,343.74 507.85,340.79 508.20,338.00 C508.58,334.95 509.02,331.67 509.40,328.40 C509.79,325.00 510.04,320.81 510.50,318.00 C510.82,316.05 510.95,314.09 511.60,313.10 C512.00,312.50 512.60,312.37 513.10,312.00 C513.67,313.83 514.27,315.25 514.80,317.50 C515.61,320.91 516.23,326.44 517.00,330.60 C517.70,334.41 518.44,338.70 519.20,341.50 C519.69,343.31 520.20,344.43 520.70,345.90 C521.13,343.70 521.57,341.50 522.00,339.30 C522.53,340.03 523.20,340.37 523.60,341.50 C524.48,344.02 524.02,350.39 524.20,355.00 C524.39,359.84 524.53,364.93 524.70,369.90 C525.40,368.43 526.10,366.97 526.80,365.50 C527.53,366.23 528.27,366.97 529.00,367.70 C529.73,366.23 530.47,364.77 531.20,363.30 C531.57,365.50 531.78,368.34 532.30,369.90 C532.61,370.83 533.03,371.30 533.40,372.00 C533.77,358.20 533.74,338.46 534.50,330.60 C534.79,327.60 535.23,326.20 535.60,324.00 C535.97,326.93 536.12,330.88 536.70,332.80 C537.01,333.81 537.43,334.27 537.80,335.00 C538.07,330.00 538.25,324.22 538.60,320.00 C538.86,316.91 539.18,313.77 539.50,312.00 C539.66,311.10 539.83,310.67 540.00,310.00" stroke="#ff2020" stroke-width="1.15" />
<path d="M451.50,306.30 C456.57,306.40 462.63,306.32 466.70,306.60 C469.45,306.79 471.20,307.03 473.60,307.40 C476.25,307.81 479.14,308.45 481.90,309.00 C484.64,309.55 487.48,310.22 490.10,310.70 C492.49,311.14 495.08,311.73 497.00,311.80 C498.36,311.85 499.50,311.73 500.50,311.50 C501.30,311.32 501.99,310.74 502.60,310.70 C503.05,310.67 503.46,310.70 503.80,311.00 C504.35,311.48 504.66,312.62 505.00,314.00 C505.67,316.72 505.82,322.77 506.30,326.60 C506.70,329.83 507.21,333.45 507.60,335.50 C507.81,336.60 508.00,337.17 508.20,338.00 C508.63,335.47 509.12,333.26 509.50,330.40 C509.99,326.74 510.28,321.62 510.70,317.80 C511.05,314.60 511.43,311.93 511.80,309.00 C511.87,319.33 511.94,328.46 512.00,340.00 C512.08,354.58 512.13,373.00 512.20,389.50 C512.97,387.73 513.64,385.79 514.50,384.20 C515.26,382.79 516.09,381.49 517.00,380.40 C517.81,379.43 518.75,378.74 519.60,377.90 C520.45,377.07 521.36,376.07 522.10,375.40 C522.65,374.91 523.20,374.42 523.60,374.20 C523.83,374.07 524.00,374.07 524.20,374.00 C524.20,357.00 524.20,340.00 524.20,323.00 C525.80,323.00 527.40,323.00 529.00,323.00 C530.10,324.80 531.63,327.11 532.30,328.40 C532.65,329.08 532.84,329.23 533.00,330.00 C533.99,334.73 533.00,360.00 533.00,375.00 C533.33,370.00 533.58,365.00 534.00,360.00 C534.42,355.00 535.00,350.00 535.50,345.00 C536.00,340.00 536.63,335.57 537.00,330.00 C537.47,323.05 537.53,314.33 537.80,306.50 C537.80,334.53 537.80,362.57 537.80,390.60 C538.20,383.73 538.61,376.32 539.00,370.00 C539.34,364.60 539.67,360.00 540.00,355.00" stroke="#1818ff" stroke-width="1.15" stroke-dasharray="2.6 1.0 0.9 1.0"/>
<path d="M451.50,349.00 C456.57,349.00 461.89,349.14 466.70,349.00 C471.05,348.88 475.60,348.90 479.10,348.30 C481.76,347.84 483.89,347.25 486.00,346.30 C488.01,345.39 489.71,343.87 491.50,342.80 C493.14,341.82 494.66,340.86 496.30,340.10 C497.90,339.36 499.95,338.45 501.20,338.30 C501.93,338.21 502.39,338.35 503.00,338.50 C503.66,338.67 504.33,339.03 505.00,339.30 C505.73,337.20 506.48,335.14 507.20,333.00 C507.95,330.78 508.64,328.30 509.40,326.20 C510.08,324.34 510.72,322.53 511.50,321.00 C512.17,319.68 512.97,318.67 513.70,317.50 C514.47,318.17 515.33,318.61 516.00,319.50 C516.86,320.64 517.47,322.21 518.10,324.00 C518.96,326.45 519.59,329.86 520.30,333.00 C521.07,336.41 521.30,341.03 522.50,343.70 C523.34,345.57 524.63,346.57 525.70,348.00 C526.30,347.00 526.98,346.35 527.50,345.00 C528.39,342.69 528.89,338.68 529.50,335.00 C530.25,330.52 530.80,324.64 531.50,320.00 C532.11,315.96 532.77,312.47 533.40,308.70 C533.40,334.90 533.40,361.10 533.40,387.30 C533.77,371.53 534.04,352.87 534.50,340.00 C534.82,331.12 535.23,325.00 535.60,317.50 C536.07,320.00 536.55,322.32 537.00,325.00 C537.52,328.09 538.00,331.67 538.50,335.00 C539.00,330.00 539.50,325.00 540.00,320.00" stroke="#10b0a4" stroke-width="1.15" stroke-dasharray="2.9 2.7"/>
</g>
<line x1="50.90" y1="90.50" x2="66.90" y2="90.50" stroke="#ff2020" stroke-width="1.25" />
<text x="69.10" y="92.90" font-size="7.2" text-anchor="start" font-family='"Liberation Serif", serif' fill="#1a1a1a" style="stroke-width:0.2px;stroke:#1a1a1a">cEof1</text>
<line x1="50.90" y1="98.50" x2="66.90" y2="98.50" stroke="#1818ff" stroke-width="1.25" stroke-dasharray="3.2 1.8 0.9 1.8"/>
<text x="69.10" y="100.90" font-size="7.2" text-anchor="start" font-family='"Liberation Serif", serif' fill="#1a1a1a" style="stroke-width:0.2px;stroke:#1a1a1a">cEof2</text>
<line x1="50.90" y1="106.40" x2="66.90" y2="106.40" stroke="#10b0a4" stroke-width="1.25" stroke-dasharray="3.2 2.6"/>
<text x="69.10" y="108.80" font-size="7.2" text-anchor="start" font-family='"Liberation Serif", serif' fill="#1a1a1a" style="stroke-width:0.2px;stroke:#1a1a1a">cEof3</text>
<line x1="89.10" y1="158.40" x2="105.10" y2="158.40" stroke="#ff2020" stroke-width="1.25" />
<text x="107.30" y="160.80" font-size="7.2" text-anchor="start" font-family='"Liberation Serif", serif' fill="#1a1a1a" style="stroke-width:0.2px;stroke:#1a1a1a">cEof1</text>
<line x1="89.10" y1="166.40" x2="105.10" y2="166.40" stroke="#1818ff" stroke-width="1.25" stroke-dasharray="3.2 1.8 0.9 1.8"/>
<text x="107.30" y="168.80" font-size="7.2" text-anchor="start" font-family='"Liberation Serif", serif' fill="#1a1a1a" style="stroke-width:0.2px;stroke:#1a1a1a">cEof2</text>
<line x1="89.10" y1="174.40" x2="105.10" y2="174.40" stroke="#10b0a4" stroke-width="1.25" stroke-dasharray="3.2 2.6"/>
<text x="107.30" y="176.80" font-size="7.2" text-anchor="start" font-family='"Liberation Serif", serif' fill="#1a1a1a" style="stroke-width:0.2px;stroke:#1a1a1a">cEof3</text>
<line x1="51.20" y1="360.00" x2="67.20" y2="360.00" stroke="#ff2020" stroke-width="1.25" />
<text x="69.40" y="362.40" font-size="7.2" text-anchor="start" font-family='"Liberation Serif", serif' fill="#1a1a1a" style="stroke-width:0.2px;stroke:#1a1a1a">cEof1</text>
<line x1="51.20" y1="368.00" x2="67.20" y2="368.00" stroke="#1818ff" stroke-width="1.25" stroke-dasharray="3.2 1.8 0.9 1.8"/>
<text x="69.40" y="370.40" font-size="7.2" text-anchor="start" font-family='"Liberation Serif", serif' fill="#1a1a1a" style="stroke-width:0.2px;stroke:#1a1a1a">cEof2</text>
<line x1="51.20" y1="376.00" x2="67.20" y2="376.00" stroke="#10b0a4" stroke-width="1.25" stroke-dasharray="3.2 2.6"/>
<text x="69.40" y="378.40" font-size="7.2" text-anchor="start" font-family='"Liberation Serif", serif' fill="#1a1a1a" style="stroke-width:0.2px;stroke:#1a1a1a">cEof3</text>
<line x1="185.90" y1="90.50" x2="201.90" y2="90.50" stroke="#ff2020" stroke-width="1.25" />
<text x="204.10" y="92.90" font-size="7.2" text-anchor="start" font-family='"Liberation Serif", serif' fill="#1a1a1a" style="stroke-width:0.2px;stroke:#1a1a1a">cEof1</text>
<line x1="185.90" y1="98.50" x2="201.90" y2="98.50" stroke="#1818ff" stroke-width="1.25" stroke-dasharray="3.2 1.8 0.9 1.8"/>
<text x="204.10" y="100.90" font-size="7.2" text-anchor="start" font-family='"Liberation Serif", serif' fill="#1a1a1a" style="stroke-width:0.2px;stroke:#1a1a1a">cEof2</text>
<line x1="185.90" y1="106.40" x2="201.90" y2="106.40" stroke="#10b0a4" stroke-width="1.25" stroke-dasharray="3.2 2.6"/>
<text x="204.10" y="108.80" font-size="7.2" text-anchor="start" font-family='"Liberation Serif", serif' fill="#1a1a1a" style="stroke-width:0.2px;stroke:#1a1a1a">cEof3</text>
<line x1="223.20" y1="158.40" x2="239.20" y2="158.40" stroke="#ff2020" stroke-width="1.25" />
<text x="241.40" y="160.80" font-size="7.2" text-anchor="start" font-family='"Liberation Serif", serif' fill="#1a1a1a" style="stroke-width:0.2px;stroke:#1a1a1a">cEof1</text>
<line x1="223.20" y1="166.40" x2="239.20" y2="166.40" stroke="#1818ff" stroke-width="1.25" stroke-dasharray="3.2 1.8 0.9 1.8"/>
<text x="241.40" y="168.80" font-size="7.2" text-anchor="start" font-family='"Liberation Serif", serif' fill="#1a1a1a" style="stroke-width:0.2px;stroke:#1a1a1a">cEof2</text>
<line x1="223.20" y1="174.40" x2="239.20" y2="174.40" stroke="#10b0a4" stroke-width="1.25" stroke-dasharray="3.2 2.6"/>
<text x="241.40" y="176.80" font-size="7.2" text-anchor="start" font-family='"Liberation Serif", serif' fill="#1a1a1a" style="stroke-width:0.2px;stroke:#1a1a1a">cEof3</text>
<line x1="185.90" y1="360.00" x2="201.90" y2="360.00" stroke="#ff2020" stroke-width="1.25" />
<text x="204.10" y="362.40" font-size="7.2" text-anchor="start" font-family='"Liberation Serif", serif' fill="#1a1a1a" style="stroke-width:0.2px;stroke:#1a1a1a">cEof1</text>
<line x1="185.90" y1="368.00" x2="201.90" y2="368.00" stroke="#1818ff" stroke-width="1.25" stroke-dasharray="3.2 1.8 0.9 1.8"/>
<text x="204.10" y="370.40" font-size="7.2" text-anchor="start" font-family='"Liberation Serif", serif' fill="#1a1a1a" style="stroke-width:0.2px;stroke:#1a1a1a">cEof2</text>
<line x1="185.90" y1="376.00" x2="201.90" y2="376.00" stroke="#10b0a4" stroke-width="1.25" stroke-dasharray="3.2 2.6"/>
<text x="204.10" y="378.40" font-size="7.2" text-anchor="start" font-family='"Liberation Serif", serif' fill="#1a1a1a" style="stroke-width:0.2px;stroke:#1a1a1a">cEof3</text>
<line x1="320.90" y1="90.50" x2="336.90" y2="90.50" stroke="#ff2020" stroke-width="1.25" />
<text x="339.10" y="92.90" font-size="7.2" text-anchor="start" font-family='"Liberation Serif", serif' fill="#1a1a1a" style="stroke-width:0.2px;stroke:#1a1a1a">cEof1</text>
<line x1="320.90" y1="98.50" x2="336.90" y2="98.50" stroke="#1818ff" stroke-width="1.25" stroke-dasharray="3.2 1.8 0.9 1.8"/>
<text x="339.10" y="100.90" font-size="7.2" text-anchor="start" font-family='"Liberation Serif", serif' fill="#1a1a1a" style="stroke-width:0.2px;stroke:#1a1a1a">cEof2</text>
<line x1="320.90" y1="106.40" x2="336.90" y2="106.40" stroke="#10b0a4" stroke-width="1.25" stroke-dasharray="3.2 2.6"/>
<text x="339.10" y="108.80" font-size="7.2" text-anchor="start" font-family='"Liberation Serif", serif' fill="#1a1a1a" style="stroke-width:0.2px;stroke:#1a1a1a">cEof3</text>
<line x1="359.10" y1="158.40" x2="375.10" y2="158.40" stroke="#ff2020" stroke-width="1.25" />
<text x="377.30" y="160.80" font-size="7.2" text-anchor="start" font-family='"Liberation Serif", serif' fill="#1a1a1a" style="stroke-width:0.2px;stroke:#1a1a1a">cEof1</text>
<line x1="359.10" y1="166.40" x2="375.10" y2="166.40" stroke="#1818ff" stroke-width="1.25" stroke-dasharray="3.2 1.8 0.9 1.8"/>
<text x="377.30" y="168.80" font-size="7.2" text-anchor="start" font-family='"Liberation Serif", serif' fill="#1a1a1a" style="stroke-width:0.2px;stroke:#1a1a1a">cEof2</text>
<line x1="359.10" y1="174.40" x2="375.10" y2="174.40" stroke="#10b0a4" stroke-width="1.25" stroke-dasharray="3.2 2.6"/>
<text x="377.30" y="176.80" font-size="7.2" text-anchor="start" font-family='"Liberation Serif", serif' fill="#1a1a1a" style="stroke-width:0.2px;stroke:#1a1a1a">cEof3</text>
<line x1="320.90" y1="360.00" x2="336.90" y2="360.00" stroke="#ff2020" stroke-width="1.25" />
<text x="339.10" y="362.40" font-size="7.2" text-anchor="start" font-family='"Liberation Serif", serif' fill="#1a1a1a" style="stroke-width:0.2px;stroke:#1a1a1a">cEof1</text>
<line x1="320.90" y1="368.00" x2="336.90" y2="368.00" stroke="#1818ff" stroke-width="1.25" stroke-dasharray="3.2 1.8 0.9 1.8"/>
<text x="339.10" y="370.40" font-size="7.2" text-anchor="start" font-family='"Liberation Serif", serif' fill="#1a1a1a" style="stroke-width:0.2px;stroke:#1a1a1a">cEof2</text>
<line x1="320.90" y1="376.00" x2="336.90" y2="376.00" stroke="#10b0a4" stroke-width="1.25" stroke-dasharray="3.2 2.6"/>
<text x="339.10" y="378.40" font-size="7.2" text-anchor="start" font-family='"Liberation Serif", serif' fill="#1a1a1a" style="stroke-width:0.2px;stroke:#1a1a1a">cEof3</text>
<line x1="454.20" y1="90.50" x2="470.20" y2="90.50" stroke="#ff2020" stroke-width="1.25" />
<text x="472.40" y="92.90" font-size="7.2" text-anchor="start" font-family='"Liberation Serif", serif' fill="#1a1a1a" style="stroke-width:0.2px;stroke:#1a1a1a">cEof1</text>
<line x1="454.20" y1="98.50" x2="470.20" y2="98.50" stroke="#1818ff" stroke-width="1.25" stroke-dasharray="3.2 1.8 0.9 1.8"/>
<text x="472.40" y="100.90" font-size="7.2" text-anchor="start" font-family='"Liberation Serif", serif' fill="#1a1a1a" style="stroke-width:0.2px;stroke:#1a1a1a">cEof2</text>
<line x1="454.20" y1="106.40" x2="470.20" y2="106.40" stroke="#10b0a4" stroke-width="1.25" stroke-dasharray="3.2 2.6"/>
<text x="472.40" y="108.80" font-size="7.2" text-anchor="start" font-family='"Liberation Serif", serif' fill="#1a1a1a" style="stroke-width:0.2px;stroke:#1a1a1a">cEof3</text>
<line x1="494.10" y1="158.40" x2="510.10" y2="158.40" stroke="#ff2020" stroke-width="1.25" />
<text x="512.30" y="160.80" font-size="7.2" text-anchor="start" font-family='"Liberation Serif", serif' fill="#1a1a1a" style="stroke-width:0.2px;stroke:#1a1a1a">cEof1</text>
<line x1="494.10" y1="166.40" x2="510.10" y2="166.40" stroke="#1818ff" stroke-width="1.25" stroke-dasharray="3.2 1.8 0.9 1.8"/>
<text x="512.30" y="168.80" font-size="7.2" text-anchor="start" font-family='"Liberation Serif", serif' fill="#1a1a1a" style="stroke-width:0.2px;stroke:#1a1a1a">cEof2</text>
<line x1="494.10" y1="174.40" x2="510.10" y2="174.40" stroke="#10b0a4" stroke-width="1.25" stroke-dasharray="3.2 2.6"/>
<text x="512.30" y="176.80" font-size="7.2" text-anchor="start" font-family='"Liberation Serif", serif' fill="#1a1a1a" style="stroke-width:0.2px;stroke:#1a1a1a">cEof3</text>
<line x1="454.40" y1="360.00" x2="470.40" y2="360.00" stroke="#ff2020" stroke-width="1.25" />
<text x="472.60" y="362.40" font-size="7.2" text-anchor="start" font-family='"Liberation Serif", serif' fill="#1a1a1a" style="stroke-width:0.2px;stroke:#1a1a1a">cEof1</text>
<line x1="454.40" y1="368.00" x2="470.40" y2="368.00" stroke="#1818ff" stroke-width="1.25" stroke-dasharray="3.2 1.8 0.9 1.8"/>
<text x="472.60" y="370.40" font-size="7.2" text-anchor="start" font-family='"Liberation Serif", serif' fill="#1a1a1a" style="stroke-width:0.2px;stroke:#1a1a1a">cEof2</text>
<line x1="454.40" y1="376.00" x2="470.40" y2="376.00" stroke="#10b0a4" stroke-width="1.25" stroke-dasharray="3.2 2.6"/>
<text x="472.60" y="378.40" font-size="7.2" text-anchor="start" font-family='"Liberation Serif", serif' fill="#1a1a1a" style="stroke-width:0.2px;stroke:#1a1a1a">cEof3</text>
</svg></body></html>
